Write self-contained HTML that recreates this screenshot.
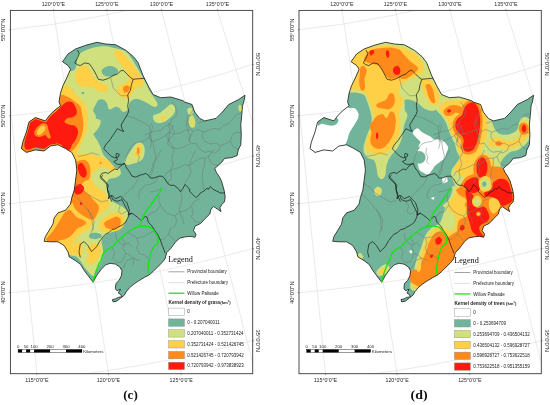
<!DOCTYPE html>
<html><head><meta charset="utf-8"><title>Kernel density maps</title>
<style>html,body{margin:0;padding:0;background:#fff}svg{display:block}</style>
</head><body>
<svg width="550" height="405" viewBox="0 0 550 405">
<style>
text{font-family:"Liberation Sans",Arial,sans-serif;fill:#222}
.ax text{font-size:5.6px;fill:#2a2a2a}
.tk{stroke:#333;stroke-width:.5}
.lg{font-size:4.5px}
.lgb{font-size:4.7px;font-weight:bold}
.lgt{font-family:"Liberation Serif","Times New Roman",serif;font-size:8.2px;fill:#111}
.sb{font-size:4.3px}
.cap{font-family:"Liberation Serif","Times New Roman",serif;font-size:13.4px;font-weight:bold;fill:#111}
</style>
<rect width="550" height="405" fill="#fff"/>
<g transform="translate(0,0)"><clipPath id="fgrass"><rect x="10.4" y="10.4" width="242.29999999999998" height="363.3"/></clipPath><clipPath id="cgrass"><path d="M62.5,61.7 68,54 75.5,49 85.6,45.3 97,42.3 105.8,44 115.8,44.8 126,50.4 133.5,56.7 138,62.5 143,75.5 148,85.6 153,94.5 160.7,97.7 170.7,97 183,100.7 184.6,102 192,104.5 194.7,112 199.7,118.4 204.7,120.9 216,118.4 222.4,112 228.7,104.5 233.7,102 238.7,99.5 245,95.2 243.8,102 242.5,105.8 241.8,114.6 240.8,124.7 241.3,134.7 240.8,144.8 238.2,150 237.2,155.5 231.9,157.6 224.6,158.4 221.5,162.6 217,166.3 214.8,168.7 216.3,172.2 219.3,176.7 221.5,181.1 223,186.3 224.4,191.5 225.2,197.4 224.4,201.9 221.8,204.5 219.9,207.8 221,211.6 213.6,206.5 211,209 209.8,214 204.7,219 200.5,223.5 195.1,226.1 193.5,230.6 196,234.3 195,237.3 191,236.3 185.5,236.8 180,238 175.9,241.6 173.1,245.3 170.4,248.9 166.7,252.6 165,258.9 162,262.6 157.6,267 153.1,271.5 148.7,275.2 144.3,277.4 138.3,281.1 133.9,284.1 129.4,287.8 126.5,291.5 124.3,295.2 120.6,298.1 116.9,301.1 113.1,301.9 112.4,299.6 115.4,298.9 118.3,297.4 122,296.7 120.6,294.4 118.3,293 120.6,289.3 116.9,290.7 115.4,288.8 115.4,287 116.1,283.3 119.1,280.4 121.3,275.9 122,270.7 119.8,267 115.4,264.1 110.2,263.3 105.7,264.8 101.3,269.3 96.9,275.2 93.1,282.2 92,280.8 88.2,275.8 84.4,270.8 80.6,264.5 75.6,260.7 69.3,256.9 68,251.9 64.2,245.6 58,241.8 50.4,241.8 44.1,241.3 45.3,236.7 49.1,230.4 52.9,224.2 54.2,217.9 58,212.8 65.5,210.3 70.5,204 71.8,197.7 74.3,190 75.6,180 76.8,170 75.6,160 71.8,152.4 65.5,148.6 58,144.8 50.4,146 44,151 35.3,149.9 26.4,152.4 21.4,148.6 22.7,142.3 26.4,132 29,122 35.3,117.6 45.3,120.9 49,115.9 54,110.8 60.5,105.8 59,102 60.5,93 63,85.6 66.7,78 70.5,69.3 68,65.5Z"/></clipPath><g clip-path="url(#fgrass)" fill="none" stroke="#d4d4d4" stroke-width="0.5"><circle cx="-99.0" cy="-995.0" r="1030.6"/><circle cx="-99.0" cy="-995.0" r="1116.2"/><circle cx="-99.0" cy="-995.0" r="1203.5"/><circle cx="-99.0" cy="-995.0" r="1292.3"/><circle cx="-99.0" cy="-995.0" r="1381.2"/><line x1="-99.0" y1="-995.0" x2="-27.7" y2="505.0"/><line x1="-99.0" y1="-995.0" x2="50.0" y2="505.0"/><line x1="-99.0" y1="-995.0" x2="128.4" y2="505.0"/><line x1="-99.0" y1="-995.0" x2="208.1" y2="505.0"/><line x1="-99.0" y1="-995.0" x2="289.5" y2="505.0"/><line x1="-99.0" y1="-995.0" x2="373.0" y2="505.0"/><line x1="-99.0" y1="-995.0" x2="459.4" y2="505.0"/></g><g clip-path="url(#cgrass)"><rect x="0" y="0" width="260" height="380" fill="#72b49a"/><path d="M74.5,69.7C75.8,68.4 76.0,66.2 76.6,63.9C77.2,61.5 76.8,57.7 78.1,55.6C79.3,53.5 81.4,52.4 84.1,51.1C86.8,49.8 90.8,48.5 94.2,47.6C97.6,46.8 101.0,45.9 104.3,46.0C107.6,46.1 111.3,47.4 114.3,48.1C117.3,48.8 120.2,49.3 122.4,50.1C124.6,50.9 125.5,51.1 127.4,53.1C129.3,55.1 131.8,58.8 134.0,62.2C136.2,65.6 138.8,70.2 140.8,73.7C142.8,77.2 144.3,80.4 145.8,83.3C147.3,86.2 148.1,88.4 149.6,90.9C151.1,93.4 153.3,96.2 154.6,98.4C155.9,100.6 157.6,102.8 157.6,104.2C157.6,105.6 156.3,107.2 154.6,107.0C152.8,106.8 149.6,104.3 147.1,103.0C144.6,101.7 141.8,100.0 139.5,99.4C137.2,98.8 135.2,98.8 133.5,99.4C131.8,100.0 130.3,101.3 129.4,103.0C128.5,104.7 129.2,107.8 128.2,109.3C127.1,110.8 124.6,112.2 123.1,112.0C121.6,111.8 120.7,108.9 119.4,108.0C118.2,107.1 117.3,106.5 115.6,106.7C113.9,107.0 110.8,110.1 109.3,109.5C107.8,108.9 107.8,104.7 106.8,103.0C105.8,101.3 104.5,99.8 103.0,99.4C101.5,99.0 99.5,99.2 98.0,100.4C96.5,101.6 95.0,104.6 94.2,106.7C93.4,108.8 92.7,111.1 92.9,113.0C93.1,114.9 94.1,116.8 95.4,118.1C96.7,119.4 99.9,119.1 100.5,120.6C101.1,122.1 100.2,124.8 99.2,126.9C98.2,129.0 95.7,131.3 94.2,133.2C92.7,135.1 91.2,136.1 90.4,138.2C89.6,140.3 90.1,143.7 89.1,145.8C88.0,147.9 87.4,150.0 84.1,150.8C80.8,151.6 74.0,152.5 69.0,150.8C64.0,149.1 56.4,148.7 53.9,140.7C51.4,132.7 53.1,113.1 53.9,103.0C54.7,92.9 57.2,85.3 58.9,80.3C60.6,75.2 62.3,74.2 64.0,72.7C65.7,71.2 67.2,72.0 69.0,71.5C70.8,71.0 73.2,71.0 74.5,69.7Z" fill="#cfe07c"/><path d="M75,100C79.3,96.7 93.0,98.3 96,100C99.0,101.7 93.0,107.2 93,110C93.0,112.8 96.3,114.5 96,117C95.7,119.5 91.7,122.5 91,125C90.3,127.5 91.0,129.5 92,132C93.0,134.5 95.6,137.5 97,140C98.4,142.5 99.5,144.7 100.5,147C101.5,149.3 101.8,151.8 103,154C104.2,156.2 105.9,157.6 108,160C110.1,162.4 113.6,167.2 115.5,168.5C117.4,169.8 118.4,167.1 119.3,168C120.2,168.9 121.4,172.4 120.8,174C120.2,175.6 117.4,177.0 115.5,177.8C113.6,178.7 110.8,178.1 109.3,179.1C107.8,180.1 106.9,181.8 106.7,184.1C106.5,186.4 107.0,190.1 108,193C109.0,195.9 110.9,199.7 113,201.8C115.1,203.9 118.3,204.0 120.6,205.5C122.9,207.0 125.6,208.7 126.9,210.6C128.2,212.5 128.5,215.2 128.3,216.9C128.1,218.6 126.9,219.2 125.6,221C124.3,222.8 122.7,225.9 120.6,227.7C118.5,229.4 115.5,230.2 113,231.5C110.5,232.8 107.4,233.8 105.5,235.3C103.6,236.8 102.1,237.8 101.7,240.3C101.3,242.8 103.0,247.0 103,250.4C103.0,253.8 102.8,257.4 101.7,260.5C100.7,263.6 98.1,266.7 96.7,269.3C95.3,271.9 95.2,276.2 93.2,276C91.2,275.8 87.5,271.0 85,268C82.5,265.0 82.2,262.7 78,258C73.8,253.3 63.0,258.0 60,240C57.0,222.0 58.3,170.0 60,150C61.7,130.0 67.5,128.3 70,120C72.5,111.7 70.7,103.3 75,100Z" fill="#cfe07c"/><path d="M124.4,161.5C124.8,159.5 127.5,155.6 129.4,152.7C131.3,149.8 133.8,145.6 135.7,143.9C137.6,142.2 139.2,142.0 140.7,142.6C142.2,143.2 144.0,145.3 144.5,147.6C145.0,149.9 144.6,154.1 143.8,156.4C143.0,158.7 141.5,160.2 139.5,161.5C137.5,162.8 134.0,163.4 131.9,164.0C129.8,164.6 128.2,165.2 126.9,164.8C125.7,164.4 124.0,163.5 124.4,161.5Z" fill="#cfe07c"/><path d="M153.4,115.5C154.3,114.2 157.6,114.2 159.7,113.0C161.8,111.8 164.1,109.5 166.0,108.0C167.9,106.5 169.5,104.4 171.0,104.2C172.5,104.0 174.2,105.2 174.8,106.7C175.4,108.2 175.2,111.1 174.3,113.0C173.5,114.9 171.3,116.6 169.7,118.1C168.1,119.6 166.6,121.0 164.7,121.8C162.8,122.6 160.2,123.3 158.4,123.1C156.6,122.9 154.9,121.9 154.1,120.6C153.3,119.3 152.5,116.8 153.4,115.5Z" fill="#cfe07c"/><path d="M187.4,109.3C187.9,108.3 190.1,107.1 191.1,107.5C192.1,107.9 193.2,110.5 193.2,111.8C193.2,113.0 191.9,114.7 191.1,115.0C190.2,115.3 188.7,114.5 188.1,113.5C187.5,112.5 186.9,110.3 187.4,109.3Z" fill="#cfe07c"/><path d="M189.1,116.8C189.8,115.8 191.9,114.7 192.9,115.5C193.9,116.3 195.0,119.9 195.2,121.8C195.4,123.7 194.7,126.2 193.9,127.1C193.1,128.0 191.3,128.0 190.4,127.1C189.5,126.2 188.8,123.5 188.6,121.8C188.4,120.1 188.4,117.8 189.1,116.8Z" fill="#cfe07c"/><path d="M101.7,70.2C102.2,68.7 104.9,67.0 106.8,66.4C108.7,65.8 111.2,65.8 113.1,66.4C115.0,67.0 117.7,68.8 118.1,70.2C118.5,71.6 117.1,73.8 115.6,74.8C114.1,75.8 111.3,76.4 109.3,76.5C107.3,76.6 105.1,76.3 103.8,75.3C102.5,74.2 101.2,71.7 101.7,70.2Z" fill="#72b49a"/><path d="M70.3,89.9C70.4,89.4 71.5,88.9 72.0,89.1C72.5,89.3 73.1,90.4 73.0,90.9C72.9,91.4 71.8,92.1 71.3,91.9C70.8,91.7 70.2,90.4 70.3,89.9Z" fill="#72b49a"/><path d="M81.6,92.4C81.8,92.0 83.1,91.7 83.6,91.9C84.1,92.1 84.6,93.2 84.4,93.6C84.2,94.0 82.8,94.3 82.3,94.1C81.8,93.9 81.4,92.8 81.6,92.4Z" fill="#72b49a"/><path d="M89.1,235.3C89.7,234.4 92.2,233.0 94.1,232.8C96.0,232.6 99.1,233.4 100.4,234.0C101.7,234.6 102.3,235.8 101.7,236.6C101.1,237.4 98.6,238.8 96.7,239.1C94.8,239.4 91.7,238.9 90.4,238.3C89.1,237.7 88.5,236.2 89.1,235.3Z" fill="#72b49a"/><path d="M75.3,74.0C75.9,71.3 78.6,67.9 80.3,66.4C82.0,64.9 83.7,64.6 85.4,65.2C87.1,65.8 88.9,68.1 90.4,70.2C91.9,72.3 92.5,75.7 94.2,77.8C95.9,79.9 98.4,81.5 100.5,82.8C102.6,84.0 105.5,84.0 106.8,85.3C108.0,86.6 108.8,89.2 108.0,90.4C107.2,91.6 103.8,92.6 101.7,92.4C99.6,92.2 97.5,90.1 95.4,89.1C93.3,88.1 91.4,87.0 89.1,86.6C86.8,86.2 83.7,87.2 81.6,86.6C79.5,86.0 77.6,84.9 76.6,82.8C75.5,80.7 74.7,76.7 75.3,74.0Z" fill="#ffcf45"/><path d="M114.3,51.3C114.9,50.2 117.5,49.2 119.4,50.1C121.3,51.0 123.6,54.1 125.7,56.4C127.8,58.7 129.9,61.2 132.0,63.9C134.1,66.6 136.4,70.0 138.3,72.7C140.2,75.4 142.7,78.0 143.3,80.3C143.9,82.6 143.3,85.3 142.0,86.6C140.7,87.8 137.4,86.5 135.7,87.8C134.0,89.0 133.2,92.4 132.0,94.1C130.8,95.8 129.7,97.3 128.2,97.9C126.7,98.5 124.8,98.5 123.1,97.9C121.4,97.3 119.1,95.6 118.1,94.1C117.0,92.6 116.4,90.6 116.8,89.1C117.2,87.6 119.1,86.3 120.6,85.3C122.1,84.2 124.2,84.0 125.7,82.8C127.2,81.5 129.4,79.9 129.4,77.8C129.4,75.7 127.4,72.7 125.7,70.2C124.0,67.7 121.1,65.0 119.4,62.7C117.7,60.4 116.4,58.3 115.6,56.4C114.8,54.5 113.7,52.3 114.3,51.3Z" fill="#ffcf45"/><path d="M56,94C57.7,90.0 59.7,87.2 62,86C64.3,84.8 67.8,85.7 70,87C72.2,88.3 73.3,91.5 75.5,94C77.7,96.5 81.1,99.4 83,102C84.9,104.6 86.1,106.7 86.9,109.6C87.8,112.5 88.1,116.2 88.1,119.6C88.1,122.9 87.8,126.3 86.9,129.7C86.1,133.1 84.4,136.6 83,139.8C81.6,143.0 79.5,146.7 78.5,149C77.5,151.3 76.7,152.7 77,153.5C77.3,154.3 78.1,153.8 80.3,153.9C82.5,154.0 87.2,153.5 90.4,153.9C93.6,154.3 96.5,155.6 99.2,156.4C101.9,157.2 104.4,157.5 106.7,159C109.0,160.5 111.5,163.4 113,165.3C114.5,167.2 115.7,169.3 115.5,170.3C115.3,171.3 113.3,171.9 111.8,171.5C110.3,171.1 108.6,168.4 106.7,167.8C104.8,167.2 102.5,167.2 100.4,167.8C98.3,168.4 95.6,170.0 94.1,171.5C92.6,173.0 91.6,174.5 91.6,176.6C91.6,178.7 92.6,182.0 94.1,184.1C95.6,186.2 98.5,187.5 100.4,189.2C102.3,190.9 104.2,192.2 105.5,194.2C106.8,196.2 107.9,199.0 108.5,201C109.1,203.0 110.0,204.6 109.3,206.3C108.6,208.0 105.9,209.9 104.2,211.4C102.5,212.9 100.7,213.6 99.2,215.1C97.7,216.6 96.7,218.5 95.4,220.2C94.1,221.9 92.9,223.5 91.6,225.2C90.3,226.9 89.3,229.0 87.8,230.3C86.3,231.6 84.5,231.8 82.8,232.8C81.1,233.9 79.3,234.9 77.8,236.6C76.3,238.3 75.0,240.7 74,242.8C73.0,244.9 71.7,246.9 71.5,249.1C71.3,251.3 74.9,255.8 73,256C71.1,256.1 65.5,251.8 60,250C54.5,248.2 43.3,253.3 40,245C36.7,236.7 36.7,215.8 40,200C43.3,184.2 58.0,165.0 60,150C62.0,135.0 52.7,119.3 52,110C51.3,100.7 54.3,98.0 56,94Z" fill="#ffcf45"/><path d="M86.6,249.1C87.2,247.2 90.8,244.7 92.9,244.1C95.0,243.5 97.9,244.1 99.2,245.4C100.5,246.7 101.0,249.6 100.9,251.7C100.8,253.8 99.7,256.1 98.4,258.0C97.2,259.9 95.0,261.9 93.4,263.0C91.9,264.1 90.2,264.8 89.1,264.3C88.0,263.8 86.6,261.5 86.6,260.0C86.6,258.5 89.1,257.2 89.1,255.4C89.1,253.6 86.0,251.0 86.6,249.1Z" fill="#ffcf45"/><path d="M71.5,249.1C71.5,247.1 73.8,244.1 75.3,242.8C76.8,241.6 79.1,240.6 80.3,241.6C81.5,242.6 82.2,246.7 82.3,249.1C82.4,251.5 82.0,254.9 80.8,255.9C79.6,256.9 76.8,256.0 75.3,254.9C73.8,253.8 71.5,251.1 71.5,249.1Z" fill="#ffcf45"/><path d="M99.2,222.7C100.2,220.8 102.8,218.1 105.5,216.4C108.2,214.7 112.6,212.8 115.5,212.6C118.4,212.4 121.6,213.4 123.1,215.1C124.6,216.8 125.0,220.4 124.6,222.7C124.2,225.0 122.5,227.5 120.6,229.0C118.7,230.5 115.7,231.3 113.0,231.8C110.3,232.3 106.5,232.5 104.2,231.8C101.9,231.1 100.0,229.2 99.2,227.7C98.4,226.2 98.2,224.6 99.2,222.7Z" fill="#ffcf45"/><path d="M134.4,152.7C134.7,150.8 136.6,146.4 137.7,145.1C138.8,143.8 140.0,143.5 140.7,144.6C141.4,145.7 142.2,149.4 142.0,151.4C141.8,153.4 140.6,155.6 139.5,156.4C138.4,157.2 136.5,157.0 135.7,156.4C134.8,155.8 134.1,154.6 134.4,152.7Z" fill="#ffcf45"/><path d="M160.4,118.1C160.8,117.3 163.7,115.8 164.7,115.8C165.7,115.8 166.9,117.0 166.5,117.8C166.1,118.5 163.4,120.2 162.4,120.3C161.4,120.3 160.0,118.8 160.4,118.1Z" fill="#ffcf45"/><path d="M190.1,118.1C190.5,117.0 192.2,116.5 193.1,117.1C193.9,117.7 194.9,120.0 195.2,121.6C195.5,123.1 195.2,125.4 194.7,126.4C194.2,127.4 193.1,127.9 192.4,127.4C191.7,126.9 190.8,125.0 190.4,123.4C190.0,121.9 189.7,119.1 190.1,118.1Z" fill="#dcdc62"/><path d="M238.5,105.8C238.8,104.9 240.6,104.7 241.2,105.5C241.8,106.3 242.3,109.9 242.0,110.8C241.7,111.7 239.8,111.9 239.2,111.1C238.6,110.3 238.2,106.7 238.5,105.8Z" fill="#dcdc62"/><path d="M189.6,118.6C190.1,117.9 191.7,117.1 192.4,117.6C193.1,118.1 193.8,120.5 193.9,121.8C194.0,123.1 193.4,125.0 192.9,125.6C192.4,126.2 191.5,126.2 190.9,125.6C190.3,125.0 189.8,123.0 189.6,121.8C189.4,120.6 189.1,119.3 189.6,118.6Z" fill="#dcdc62"/><path d="M59.9,95.7C61.4,93.6 65.4,96.0 68.0,97.0C70.6,98.0 73.4,100.3 75.5,102.0C77.6,103.7 79.5,104.9 80.6,107.0C81.7,109.1 81.6,111.6 82.1,114.6C82.6,117.5 83.5,121.4 83.4,124.7C83.4,128.1 82.7,131.5 81.8,134.7C80.9,137.8 79.5,141.1 78.1,143.6C76.7,146.1 75.0,148.6 73.5,149.8C72.0,151.1 71.0,151.5 69.3,151.1C67.5,150.7 64.9,150.5 63.0,147.3C61.1,144.2 58.5,138.5 57.9,132.2C57.3,125.9 58.9,115.7 59.2,109.6C59.5,103.5 58.4,97.8 59.9,95.7Z" fill="#ff8a1c"/><path d="M76.5,161.5C78.2,161.0 82.0,159.3 84.1,159.7C86.2,160.1 88.0,162.0 89.1,164.0C90.1,166.0 90.4,169.1 90.4,171.6C90.4,174.1 90.1,177.4 89.1,179.1C88.0,180.8 85.3,180.3 84.1,181.6C82.8,182.9 81.2,184.8 81.6,186.7C82.0,188.6 84.9,191.2 86.6,193.0C88.3,194.8 91.0,196.0 91.6,197.5C92.2,199.0 91.9,200.9 90.4,201.8C88.9,202.7 85.8,202.8 82.8,203.0C79.8,203.2 75.6,202.6 72.7,203.0C69.8,203.4 66.0,207.6 65.2,205.5C64.4,203.4 66.9,194.6 67.7,190.4C68.5,186.2 69.4,183.8 70.2,180.4C71.0,177.1 72.1,173.2 72.7,170.3C73.3,167.4 73.4,164.2 74.0,162.7C74.6,161.2 74.8,162.0 76.5,161.5Z" fill="#ff8a1c"/><path d="M72.8,191.3C74.7,189.5 80.3,189.7 83.9,191.3C87.5,192.9 91.8,198.3 94.3,200.9C96.8,203.5 98.6,204.7 99.0,206.9C99.4,209.1 97.9,212.2 96.9,214.3C95.9,216.4 94.9,219.1 93.1,219.6C91.3,220.1 88.4,218.6 86.1,217.5C83.8,216.4 81.2,214.6 79.4,213.1C77.6,211.6 76.1,210.4 75.0,208.6C73.9,206.8 73.2,205.3 72.8,202.4C72.4,199.5 70.9,193.2 72.8,191.3Z" fill="#ff8a1c"/><path d="M46.1,239.4C46.1,238.2 48.5,236.3 49.8,234.7C51.1,233.1 52.8,231.5 54.0,229.8C55.2,228.1 56.1,226.4 57.2,224.6C58.4,222.8 59.7,220.7 60.9,218.7C62.1,216.7 63.2,214.3 64.6,212.8C66.0,211.3 68.0,209.8 69.4,209.8C70.8,209.8 71.7,211.6 72.9,212.8C74.1,214.0 75.2,216.1 76.8,217.2C78.4,218.3 80.8,218.5 82.4,219.4C84.0,220.3 86.2,221.5 86.3,222.6C86.3,223.7 84.2,225.1 82.7,226.1C81.2,227.1 78.8,227.5 77.4,228.5C76.0,229.5 75.5,230.8 74.4,232.0C73.3,233.2 72.1,234.8 70.6,235.9C69.1,237.1 67.1,238.2 65.4,238.9C63.7,239.6 62.1,239.7 60.2,240.2C58.4,240.7 56.0,241.8 54.3,242.1C52.6,242.4 51.2,242.2 49.8,241.8C48.4,241.4 46.1,240.6 46.1,239.4Z" fill="#ff8a1c"/><path d="M104.2,222.7C104.8,221.2 108.4,219.9 110.5,218.9C112.6,217.9 115.1,216.2 116.8,216.4C118.5,216.6 120.4,218.5 120.8,220.2C121.2,221.9 120.4,225.0 119.3,226.5C118.2,228.0 116.4,228.9 114.3,229.2C112.2,229.4 108.4,229.1 106.7,228.0C105.0,226.9 103.6,224.2 104.2,222.7Z" fill="#ff8a1c"/><path d="M123.1,87.8C123.5,86.6 125.8,85.3 126.9,85.3C128.0,85.3 129.7,86.8 129.9,87.8C130.1,88.8 129.1,90.8 128.2,91.6C127.3,92.4 125.2,93.0 124.4,92.4C123.6,91.8 122.7,89.0 123.1,87.8Z" fill="#ff8a1c"/><path d="M137.7,148.9C137.8,147.8 138.7,147.0 139.0,147.6C139.3,148.2 139.8,151.6 139.7,152.7C139.6,153.8 138.5,154.5 138.2,153.9C137.9,153.3 137.6,150.0 137.7,148.9Z" fill="#ff8a1c"/><path d="M99.7,162.2C99.9,161.8 100.9,161.5 101.2,161.7C101.5,161.9 101.9,163.1 101.7,163.5C101.5,163.9 100.5,164.2 100.2,164.0C99.9,163.8 99.5,162.6 99.7,162.2Z" fill="#ff8a1c"/><path d="M20.1,146.1C20.6,145.2 23.0,144.4 24.4,144.8C25.8,145.2 26.6,148.2 28.2,148.8C29.8,149.4 32.8,147.9 34.0,148.3C35.2,148.7 36.6,150.2 35.3,151.1C34.0,151.9 28.8,153.5 26.4,153.4C24.0,153.3 22.2,151.6 21.2,150.4C20.1,149.2 19.6,147.0 20.1,146.1Z" fill="#ff8a1c"/><path d="M30.2,119.6C31.7,118.3 35.3,116.8 37.8,117.1C40.3,117.4 43.2,121.8 45.3,121.6C47.4,121.4 48.5,117.7 50.4,115.9C52.3,114.1 54.8,112.5 56.7,110.8C58.6,109.1 60.0,107.3 61.7,105.8C63.4,104.3 65.0,102.6 66.7,102.0C68.4,101.4 70.3,101.2 71.8,102.0C73.3,102.8 74.7,105.1 75.5,107.0C76.3,108.9 77.2,111.6 76.8,113.3C76.4,115.0 74.6,116.2 73.0,117.1C71.4,117.9 68.4,117.6 67.0,118.4C65.6,119.2 64.1,121.0 64.5,122.1C64.9,123.1 67.5,124.0 69.3,124.7C71.1,125.4 74.0,125.0 75.5,126.2C77.0,127.5 78.1,129.9 78.1,132.2C78.1,134.5 76.5,137.7 75.5,139.8C74.5,141.9 73.0,143.1 72.0,144.8C71.0,146.5 70.8,149.3 69.5,149.8C68.2,150.3 66.1,148.8 64.2,147.8C62.3,146.8 60.2,144.2 57.9,143.8C55.6,143.4 52.7,144.3 50.4,145.1C48.1,145.9 46.6,148.4 44.1,148.8C41.6,149.2 38.0,147.4 35.3,147.6C32.6,147.8 29.5,150.0 27.7,149.8C25.9,149.6 24.6,148.8 24.4,146.3C24.1,143.8 25.5,138.3 26.2,134.7C26.9,131.1 28.0,127.2 28.7,124.7C29.4,122.2 28.7,120.9 30.2,119.6Z" fill="#ff1a10"/><path d="M34.2,132.9C34.2,131.4 35.5,129.0 36.9,127.4C38.3,125.8 40.7,123.9 42.4,123.4C44.1,123.0 46.0,123.7 47.0,124.7C48.0,125.7 47.8,127.8 48.3,129.3C48.8,130.8 49.3,132.4 49.7,133.8C50.1,135.2 51.0,136.7 50.8,137.5C50.6,138.3 49.2,138.8 48.3,138.4C47.4,138.0 46.3,135.4 45.2,135.1C44.1,134.8 42.9,136.3 41.5,136.6C40.1,136.8 38.1,137.2 36.9,136.6C35.7,136.0 34.2,134.4 34.2,132.9Z" fill="#ff8a1c"/><path d="M36.9,132.0C37.2,130.8 38.6,128.5 39.7,127.4C40.8,126.3 42.4,125.6 43.3,125.6C44.2,125.6 45.1,126.5 45.3,127.4C45.5,128.3 45.1,129.9 44.3,131.1C43.5,132.3 41.7,133.8 40.6,134.4C39.5,135.0 38.5,135.1 37.9,134.7C37.3,134.3 36.6,133.2 36.9,132.0Z" fill="#ffcf45"/><path d="M77.8,165.3C78.3,164.0 80.3,162.3 81.6,162.7C82.8,163.1 84.4,165.9 85.3,167.8C86.2,169.7 87.0,172.4 86.8,174.1C86.6,175.8 85.2,177.6 84.1,177.8C83.0,178.0 81.3,176.6 80.3,175.3C79.3,174.1 78.7,172.0 78.3,170.3C77.9,168.6 77.2,166.6 77.8,165.3Z" fill="#ff1a10"/><path d="M75.3,186.7C76.3,185.6 78.8,183.9 80.3,184.1C81.8,184.3 83.9,186.4 84.1,187.9C84.3,189.4 82.9,191.9 81.6,193.0C80.3,194.1 77.8,194.9 76.5,194.5C75.2,194.1 74.2,191.7 74.0,190.4C73.8,189.1 74.2,187.8 75.3,186.7Z" fill="#ff1a10"/><path d="M80.0,202.8C80.2,202.4 81.4,202.2 81.8,202.5C82.2,202.8 82.5,203.9 82.3,204.3C82.1,204.7 80.9,205.1 80.5,204.8C80.1,204.6 79.8,203.2 80.0,202.8Z" fill="#ff1a10"/><clipPath id="pr"><rect x="15" y="108" width="47" height="50"/></clipPath><g clip-path="url(#pr)"><path d="M62.5,61.7 68,54 75.5,49 85.6,45.3 97,42.3 105.8,44 115.8,44.8 126,50.4 133.5,56.7 138,62.5 143,75.5 148,85.6 153,94.5 160.7,97.7 170.7,97 183,100.7 184.6,102 192,104.5 194.7,112 199.7,118.4 204.7,120.9 216,118.4 222.4,112 228.7,104.5 233.7,102 238.7,99.5 245,95.2 243.8,102 242.5,105.8 241.8,114.6 240.8,124.7 241.3,134.7 240.8,144.8 238.2,150 237.2,155.5 231.9,157.6 224.6,158.4 221.5,162.6 217,166.3 214.8,168.7 216.3,172.2 219.3,176.7 221.5,181.1 223,186.3 224.4,191.5 225.2,197.4 224.4,201.9 221.8,204.5 219.9,207.8 221,211.6 213.6,206.5 211,209 209.8,214 204.7,219 200.5,223.5 195.1,226.1 193.5,230.6 196,234.3 195,237.3 191,236.3 185.5,236.8 180,238 175.9,241.6 173.1,245.3 170.4,248.9 166.7,252.6 165,258.9 162,262.6 157.6,267 153.1,271.5 148.7,275.2 144.3,277.4 138.3,281.1 133.9,284.1 129.4,287.8 126.5,291.5 124.3,295.2 120.6,298.1 116.9,301.1 113.1,301.9 112.4,299.6 115.4,298.9 118.3,297.4 122,296.7 120.6,294.4 118.3,293 120.6,289.3 116.9,290.7 115.4,288.8 115.4,287 116.1,283.3 119.1,280.4 121.3,275.9 122,270.7 119.8,267 115.4,264.1 110.2,263.3 105.7,264.8 101.3,269.3 96.9,275.2 93.1,282.2 92,280.8 88.2,275.8 84.4,270.8 80.6,264.5 75.6,260.7 69.3,256.9 68,251.9 64.2,245.6 58,241.8 50.4,241.8 44.1,241.3 45.3,236.7 49.1,230.4 52.9,224.2 54.2,217.9 58,212.8 65.5,210.3 70.5,204 71.8,197.7 74.3,190 75.6,180 76.8,170 75.6,160 71.8,152.4 65.5,148.6 58,144.8 50.4,146 44,151 35.3,149.9 26.4,152.4 21.4,148.6 22.7,142.3 26.4,132 29,122 35.3,117.6 45.3,120.9 49,115.9 54,110.8 60.5,105.8 59,102 60.5,93 63,85.6 66.7,78 70.5,69.3 68,65.5Z" fill="none" stroke="#ff8a1c" stroke-width="2.6" stroke-linejoin="round"/></g><g fill="none" stroke="#6f7a78" stroke-width="0.5" stroke-linejoin="round"><path d="M193.9,108.3 191.1,112.9 189.3,116.6 187.5,122.0 189.3,127.5 193.0,131.2 191.1,134.8 189.3,140.3 191.1,144.0 195.7,143.1 198.4,146.7 201.2,150.4 204.8,152.2 210.3,151.3 214.0,153.1"/><path d="M171.9,101.9 174.7,105.6 177.4,111.1 175.6,116.6 171.9,119.3 170.1,123.9 172.9,128.4 174.7,133.0 171.9,136.7 168.3,140.3 167.4,144.0 171.9,147.6 177.4,148.6 184.7,146.7 189.3,144.0"/><path d="M144.5,134.8 150.0,133.0 155.5,131.2 161.0,130.3 164.6,126.6 170.1,123.9"/><path d="M193.0,131.2 197.5,129.4 203.0,132.1 208.5,130.3 214.0,128.4 219.5,129.4 223.1,125.7 228.6,123.9 232.3,119.3 235.0,115.6 239.6,113.8 242.3,112.9"/><path d="M203.0,132.1 202.1,136.7 204.8,141.2 210.3,144.0 215.8,143.1 220.4,145.8 218.6,150.4 214.0,153.1"/><path d="M220.4,145.8 225.0,144.0 230.4,141.2 232.3,134.8 235.9,132.1 241.4,133.0"/><path d="M230.4,141.2 233.2,146.7 237.8,149.5 240.9,148.6"/><path d="M150.0,134.8 151.8,140.3 150.9,145.8 150.0,148.6"/><path d="M161.0,150.0 158.2,155.5 155.5,160.1 152.7,163.7 153.7,168.3 151.8,173.8 150.0,176.5"/><path d="M195.7,150.0 193.0,155.5 191.1,160.1 189.3,165.5 191.1,171.0 189.3,176.5 186.6,180.2 184.7,183.8"/><path d="M189.3,165.5 195.7,161.0 200.3,158.2 204.8,158.2 208.5,156.4 211.2,152.7 214.0,150.0"/><path d="M208.5,156.4 210.3,161.9 214.0,164.6 217.1,165.7"/><path d="M164.6,176.5 167.4,171.9 173.8,169.2 179.3,167.4 184.7,164.6 189.3,165.5"/><path d="M180.2,191.1 182.0,197.5 181.1,203.0 179.3,208.5 180.2,214.0 182.9,218.6 183.8,224.0"/><path d="M150.0,192.0 155.5,191.1 160.1,189.3 161.9,188.4"/><path d="M203.9,191.1 203.0,184.7 202.1,177.4 203.0,170.1 204.8,164.6 204.8,158.2"/><path d="M121.9,237.0 124.7,242.5 122.9,248.0 125.6,253.5 130.2,255.3 133.8,259.9 132.9,265.4"/><path d="M127.4,232.5 132.0,234.3 136.6,238.0 138.4,243.4 136.6,248.0 139.3,253.5 144.8,255.3 149.4,259.0"/><path d="M136.6,238.0 143.0,237.0 147.5,234.3 153.9,230.6"/><path d="M111.9,247.1 114.6,252.6 112.8,258.1 117.4,262.6 121.9,261.7 125.6,253.5"/><path d="M158.5,239.8 164.0,238.9 168.6,234.3 170.4,228.8 175.0,226.1 176.8,220.6 175.0,216.0 178.6,212.4 185.9,210.5 191.4,206.0 195.1,200.5 200.0,198.7"/><path d="M168.6,234.3 173.1,238.9 175.9,241.6"/><path d="M175.0,216.0 169.5,214.2 164.0,210.5 160.3,205.1 158.5,198.7 159.4,195.0"/><path d="M147.2,217.9 150.3,213.3 155.8,211.5 160.3,205.1"/><path d="M191.4,206.0 193.2,211.5 191.4,216.9 195.1,221.5 200.0,222.4"/><path d="M117.4,201.4 120.1,206.0 118.3,211.5 121.9,214.2 127.4,210.5"/><path d="M124.7,163.4 126.6,156.1 129.3,149.7 133.0,144.2 137.5,142.4 143.0,141.5 148.5,137.8 151.2,132.3 153.1,125.0"/><path d="M148.5,137.8 153.1,141.5 158.6,139.6 165.0,136.0 169.5,132.3 172.3,127.7 173.2,125.0"/><path d="M169.5,132.3 174.1,134.1 179.6,133.2 185.1,130.5 190.0,129.6"/><path d="M153.1,141.5 154.0,148.8 155.8,156.1 154.9,162.5 152.2,168.0 150.3,173.4 148.5,175.3"/><path d="M167.7,183.5 171.4,178.0 170.4,170.7 173.2,164.3 171.4,157.9 174.1,152.4 172.3,145.1 168.6,141.5 169.5,132.3"/><path d="M139.4,175.3 136.6,181.7 133.0,187.2 127.5,191.7 123.8,196.3 121.1,199.0"/><path d="M158.6,176.2 155.8,181.7 150.3,184.4 144.8,185.3 140.3,189.9 138.4,195.4 139.4,199.0"/><path d="M137.9,147.9 137.2,153.3 139.4,157.0 137.9,161.6 140.3,164.3"/><path d="M125.7,115.5 134.5,118.1 144.5,123.1 149.6,126.9 152.1,123.1"/><path d="M149.6,126.9 150.8,142.0"/><path d="M168.5,123.1 169.7,130.7 166.0,135.7 169.7,142.0"/><path d="M187.4,115.5 186.1,125.6 189.9,135.7 188.6,142.0"/><path d="M197.4,123.1 207.0,120.6"/><path d="M110.8,78.1 113.3,88.1 120.9,95.7 128.4,95.7"/><path d="M77.8,156.4 85.3,155.2 91.6,152.7 99.2,155.2"/><path d="M74.0,182.9 80.3,186.7 86.6,193.0 94.1,198.0 101.7,201.8 108.0,200.5"/><path d="M71.5,193.0 77.8,198.0 84.1,205.5 90.4,213.1 94.1,220.7 92.9,230.7"/><path d="M87.8,208.9 91.6,217.7 92.9,227.7 90.4,235.3"/><path d="M115.5,232.8 116.8,240.3 123.1,245.4 128.1,242.8 131.9,246.6"/><path d="M115.5,270.5 123.1,268.0 126.9,260.5 133.2,258.0 139.5,260.5"/></g><g fill="none" stroke="#151515" stroke-width="0.7" stroke-linejoin="round"><path d="M77.4,50.1 79.3,53.7 77.4,58.3 74.7,62.9 77.4,64.7 80.2,65.6 84.7,62.9 89.3,63.8 92.0,67.4 94.8,72.0 96.6,75.6 98.4,79.3 103.0,80.2 108.5,78.4 113.1,75.6 117.6,73.8 120.4,71.1 123.1,70.2 126.8,73.8 130.4,77.5 133.2,79.3 131.4,84.8 130.4,90.3 127.7,94.8 128.6,100.3 127.7,105.8 128.6,111.3 127.7,114.0 121.1,125.0 122.0,128.7 123.8,131.4 121.1,130.5 117.4,128.7 113.8,134.1 110.1,139.6 105.5,145.1 103.7,148.8 107.4,152.4 111.0,156.1 114.7,157.9 118.3,157.0 119.3,154.3 116.5,153.3 116.0,155.7 117.4,159.7 113.8,161.6 117.4,164.3 122.0,164.3 124.7,163.4"/><path d="M133.2,79.3 137.8,78.8 143.2,78.4 146.3,79.5"/><path d="M124.7,163.4 126.6,168.0 129.3,171.6 132.0,176.2 135.7,177.1 139.4,175.3 143.0,174.4 145.8,173.4 148.5,175.3 150.3,178.0 154.0,178.0 158.6,176.2 162.2,176.2 165.0,178.9 167.7,183.5 170.4,185.3 174.1,185.3 177.8,188.1 180.5,191.7 183.2,188.1 185.1,184.4 187.8,187.2 190.0,189.9 189.3,191.1 193.0,194.8 195.7,197.5 198.4,195.7 200.3,193.0 203.9,191.1 206.7,188.4 208.5,189.3 210.3,186.6 213.1,189.3 216.7,191.1 220.4,193.0 223.1,193.0 225.0,192.0"/><path d="M124.7,163.4 120.2,166.1 117.4,169.8 114.7,168.9 111.9,170.7 108.3,173.4 105.5,172.5 101.9,173.4 100.1,176.2 102.8,178.9 105.5,181.7 108.3,185.3 107.4,189.0 109.2,193.6 108.3,199.0 111.0,195.0 112.8,199.6 117.4,201.4 121.9,199.6 124.7,205.1 127.4,210.5 129.3,214.2 132.0,213.3 134.7,215.1 138.4,217.9 141.1,220.6 143.0,218.8 145.7,216.0 147.2,217.9 148.4,222.4 152.1,226.1 154.8,230.6 157.6,234.3 160.3,239.8 162.2,245.3 164.0,249.8 165.1,253.1"/><path d="M129.3,214.2 127.4,218.8 125.6,222.4 121.9,225.2 118.3,227.0 115.5,228.8 111.9,229.7 109.1,232.5 105.5,234.3 102.7,237.0 100.9,239.8 100.0,240.7 96.7,246.6 91.6,251.7 87.8,245.4 84.1,241.6 80.3,244.1 79.0,251.7 80.3,257.5"/><path d="M111.8,195.0 115.5,198.8 120.6,196.3 126.9,202.6 129.4,210.1 128.1,215.1 131.9,213.1"/><path d="M103.0,175.3 100.4,177.8 106.7,184.1 108.0,193.0 111.8,201.8"/></g></g><path d="M62.5,61.7 68,54 75.5,49 85.6,45.3 97,42.3 105.8,44 115.8,44.8 126,50.4 133.5,56.7 138,62.5 143,75.5 148,85.6 153,94.5 160.7,97.7 170.7,97 183,100.7 184.6,102 192,104.5 194.7,112 199.7,118.4 204.7,120.9 216,118.4 222.4,112 228.7,104.5 233.7,102 238.7,99.5 245,95.2 243.8,102 242.5,105.8 241.8,114.6 240.8,124.7 241.3,134.7 240.8,144.8 238.2,150 237.2,155.5 231.9,157.6 224.6,158.4 221.5,162.6 217,166.3 214.8,168.7 216.3,172.2 219.3,176.7 221.5,181.1 223,186.3 224.4,191.5 225.2,197.4 224.4,201.9 221.8,204.5 219.9,207.8 221,211.6 213.6,206.5 211,209 209.8,214 204.7,219 200.5,223.5 195.1,226.1 193.5,230.6 196,234.3 195,237.3 191,236.3 185.5,236.8 180,238 175.9,241.6 173.1,245.3 170.4,248.9 166.7,252.6 165,258.9 162,262.6 157.6,267 153.1,271.5 148.7,275.2 144.3,277.4 138.3,281.1 133.9,284.1 129.4,287.8 126.5,291.5 124.3,295.2 120.6,298.1 116.9,301.1 113.1,301.9 112.4,299.6 115.4,298.9 118.3,297.4 122,296.7 120.6,294.4 118.3,293 120.6,289.3 116.9,290.7 115.4,288.8 115.4,287 116.1,283.3 119.1,280.4 121.3,275.9 122,270.7 119.8,267 115.4,264.1 110.2,263.3 105.7,264.8 101.3,269.3 96.9,275.2 93.1,282.2 92,280.8 88.2,275.8 84.4,270.8 80.6,264.5 75.6,260.7 69.3,256.9 68,251.9 64.2,245.6 58,241.8 50.4,241.8 44.1,241.3 45.3,236.7 49.1,230.4 52.9,224.2 54.2,217.9 58,212.8 65.5,210.3 70.5,204 71.8,197.7 74.3,190 75.6,180 76.8,170 75.6,160 71.8,152.4 65.5,148.6 58,144.8 50.4,146 44,151 35.3,149.9 26.4,152.4 21.4,148.6 22.7,142.3 26.4,132 29,122 35.3,117.6 45.3,120.9 49,115.9 54,110.8 60.5,105.8 59,102 60.5,93 63,85.6 66.7,78 70.5,69.3 68,65.5Z" fill="none" stroke="#1c1c1c" stroke-width="0.8" stroke-linejoin="round"/><g fill="none" stroke="#0fe60f" stroke-width="1.25" stroke-linejoin="round" stroke-linecap="round"><path d="M161.9,188.4 159.1,193.0 155.5,198.4 151.8,203.9 157.6,195.0 153.9,200.5 149.4,206.9 145.7,211.5 143.0,216.9 141.1,222.4 139.3,226.1 132.9,228.8 127.4,232.5 121.9,237.0 116.5,242.5 111.9,247.1 106.4,249.8 102.7,254.4 100.9,260.8 99.2,263 95.6,272.5 93,281.9"/><path d="M139.3,226.1 144.8,226.1 150.3,227.0 153.9,230.6 156.7,235.2 158.5,239.8 157.6,243.4 153.9,246.2 151.2,251.7 149.4,259.0 148.4,265.4 147.9,269.0 148.3,273.5"/></g><g transform="translate(0,0.3)"><text class="lgt" x="168.3" y="261.6">Legend</text><line x1="168.5" y1="271.5" x2="184.5" y2="271.5" stroke="#444" stroke-width="0.5"/><text class="lg" x="187.3" y="273.1">Provincial boundary</text><line x1="168.5" y1="282.4" x2="184.5" y2="282.4" stroke="#bbb" stroke-width="0.5"/><text class="lg" x="187.3" y="284">Prefecture boundary</text><line x1="168.5" y1="292.9" x2="184.5" y2="292.9" stroke="#0fe60f" stroke-width="1.25"/><text class="lg" x="187.3" y="294.5">Willow Palisade</text><text class="lgb" x="168.5" y="304.2">Kernel density of grass<tspan font-size="4.2">(km²)</tspan></text><rect x="168.5" y="307.8" width="16" height="7.4" fill="#ffffff" stroke="#8a8a8a" stroke-width="0.4"/><text class="lg" x="187.3" y="313.1">0</text><rect x="168.5" y="318.6" width="16" height="7.4" fill="#72b49a" stroke="#8a8a8a" stroke-width="0.4"/><text class="lg" x="187.3" y="323.9">0 - 0.207040011</text><rect x="168.5" y="329.4" width="16" height="7.4" fill="#cfe07c" stroke="#8a8a8a" stroke-width="0.4"/><text class="lg" x="187.3" y="334.7">0.207040011 - 0.352731424</text><rect x="168.5" y="340.3" width="16" height="7.4" fill="#ffcf45" stroke="#8a8a8a" stroke-width="0.4"/><text class="lg" x="187.3" y="345.6">0.352731424 - 0.521426745</text><rect x="168.5" y="351.1" width="16" height="7.4" fill="#ff8a1c" stroke="#8a8a8a" stroke-width="0.4"/><text class="lg" x="187.3" y="356.4">0.521426745 - 0.720793942</text><rect x="168.5" y="361.9" width="16" height="7.4" fill="#ff1a10" stroke="#8a8a8a" stroke-width="0.4"/><text class="lg" x="187.3" y="367.2">0.720793942 - 0.973838923</text></g><rect x="18.1" y="349.5" width="63.8" height="2.9" fill="#fff" stroke="#000" stroke-width="0.4"/><rect x="18.1" y="349.5" width="4.0" height="2.9" fill="#000"/><rect x="26.1" y="349.5" width="4.0" height="2.9" fill="#000"/><rect x="34.1" y="349.5" width="16.0" height="2.9" fill="#000"/><rect x="66.0" y="349.5" width="16.0" height="2.9" fill="#000"/><text class="sb" x="18.1" y="347.6" text-anchor="middle">0</text><text class="sb" x="26.1" y="347.6" text-anchor="middle">50</text><text class="sb" x="34.1" y="347.6" text-anchor="middle">100</text><text class="sb" x="50.0" y="347.6" text-anchor="middle">200</text><text class="sb" x="66.0" y="347.6" text-anchor="middle">300</text><text class="sb" x="81.9" y="347.6" text-anchor="middle">400</text><text class="sb" x="83.2" y="352.6" font-size="4.5">Kilometers</text><rect x="10.4" y="10.4" width="242.29999999999998" height="363.3" fill="none" stroke="#3a3a3a" stroke-width="0.9"/><g class="ax"><text x="53.4" y="6.4" text-anchor="middle" textLength="23.3" lengthAdjust="spacingAndGlyphs">120°0'0"E</text><line class="tk" x1="53.4" y1="9.200000000000001" x2="53.4" y2="10.4"/><text x="106.8" y="6.4" text-anchor="middle" textLength="23.3" lengthAdjust="spacingAndGlyphs">125°0'0"E</text><line class="tk" x1="106.8" y1="9.200000000000001" x2="106.8" y2="10.4"/><text x="161.4" y="6.4" text-anchor="middle" textLength="23.3" lengthAdjust="spacingAndGlyphs">130°0'0"E</text><line class="tk" x1="161.4" y1="9.200000000000001" x2="161.4" y2="10.4"/><text x="217.4" y="6.4" text-anchor="middle" textLength="23.3" lengthAdjust="spacingAndGlyphs">135°0'0"E</text><line class="tk" x1="217.4" y1="9.200000000000001" x2="217.4" y2="10.4"/><text x="36.9" y="382.2" text-anchor="middle" textLength="23.3" lengthAdjust="spacingAndGlyphs">115°0'0"E</text><line class="tk" x1="36.9" y1="373.7" x2="36.9" y2="374.9"/><text x="108.5" y="382.2" text-anchor="middle" textLength="23.3" lengthAdjust="spacingAndGlyphs">120°0'0"E</text><line class="tk" x1="108.5" y1="373.7" x2="108.5" y2="374.9"/><text x="181.2" y="382.2" text-anchor="middle" textLength="23.3" lengthAdjust="spacingAndGlyphs">125°0'0"E</text><line class="tk" x1="181.2" y1="373.7" x2="181.2" y2="374.9"/><text transform="translate(5.4,29.8) rotate(-90)" text-anchor="middle" textLength="22.6" lengthAdjust="spacingAndGlyphs">55°0'0"N</text><line class="tk" x1="9.200000000000001" y1="29.8" x2="10.4" y2="29.8"/><text transform="translate(5.4,115.8) rotate(-90)" text-anchor="middle" textLength="22.6" lengthAdjust="spacingAndGlyphs">50°0'0"N</text><line class="tk" x1="9.200000000000001" y1="115.8" x2="10.4" y2="115.8"/><text transform="translate(5.4,203.5) rotate(-90)" text-anchor="middle" textLength="22.6" lengthAdjust="spacingAndGlyphs">45°0'0"N</text><line class="tk" x1="9.200000000000001" y1="203.5" x2="10.4" y2="203.5"/><text transform="translate(5.4,292.7) rotate(-90)" text-anchor="middle" textLength="22.6" lengthAdjust="spacingAndGlyphs">40°0'0"N</text><line class="tk" x1="9.200000000000001" y1="292.7" x2="10.4" y2="292.7"/><text transform="translate(256.2,64.3) rotate(90)" text-anchor="middle" textLength="22.6" lengthAdjust="spacingAndGlyphs">50°0'0"N</text><line class="tk" x1="252.7" y1="64.3" x2="253.89999999999998" y2="64.3"/><text transform="translate(256.2,156.0) rotate(90)" text-anchor="middle" textLength="22.6" lengthAdjust="spacingAndGlyphs">45°0'0"N</text><line class="tk" x1="252.7" y1="156.0" x2="253.89999999999998" y2="156.0"/><text transform="translate(256.2,248.5) rotate(90)" text-anchor="middle" textLength="22.6" lengthAdjust="spacingAndGlyphs">40°0'0"N</text><line class="tk" x1="252.7" y1="248.5" x2="253.89999999999998" y2="248.5"/><text transform="translate(256.2,340.7) rotate(90)" text-anchor="middle" textLength="22.6" lengthAdjust="spacingAndGlyphs">35°0'0"N</text><line class="tk" x1="252.7" y1="340.7" x2="253.89999999999998" y2="340.7"/></g><text class="cap" x="130.5" y="399" text-anchor="middle" textLength="14.6" lengthAdjust="spacingAndGlyphs">(c)</text></g>
<g transform="translate(288.6,0)"><clipPath id="ftrees"><rect x="10.4" y="10.4" width="242.29999999999998" height="363.3"/></clipPath><clipPath id="ctrees"><path d="M62.5,61.7 68,54 75.5,49 85.6,45.3 97,42.3 105.8,44 115.8,44.8 126,50.4 133.5,56.7 138,62.5 143,75.5 148,85.6 153,94.5 160.7,97.7 170.7,97 183,100.7 184.6,102 192,104.5 194.7,112 199.7,118.4 204.7,120.9 216,118.4 222.4,112 228.7,104.5 233.7,102 238.7,99.5 245,95.2 243.8,102 242.5,105.8 241.8,114.6 240.8,124.7 241.3,134.7 240.8,144.8 238.2,150 237.2,155.5 231.9,157.6 224.6,158.4 221.5,162.6 217,166.3 214.8,168.7 216.3,172.2 219.3,176.7 221.5,181.1 223,186.3 224.4,191.5 225.2,197.4 224.4,201.9 221.8,204.5 219.9,207.8 221,211.6 213.6,206.5 211,209 209.8,214 204.7,219 200.5,223.5 195.1,226.1 193.5,230.6 196,234.3 195,237.3 191,236.3 185.5,236.8 180,238 175.9,241.6 173.1,245.3 170.4,248.9 166.7,252.6 165,258.9 162,262.6 157.6,267 153.1,271.5 148.7,275.2 144.3,277.4 138.3,281.1 133.9,284.1 129.4,287.8 126.5,291.5 124.3,295.2 120.6,298.1 116.9,301.1 113.1,301.9 112.4,299.6 115.4,298.9 118.3,297.4 122,296.7 120.6,294.4 118.3,293 120.6,289.3 116.9,290.7 115.4,288.8 115.4,287 116.1,283.3 119.1,280.4 121.3,275.9 122,270.7 119.8,267 115.4,264.1 110.2,263.3 105.7,264.8 101.3,269.3 96.9,275.2 93.1,282.2 92,280.8 88.2,275.8 84.4,270.8 80.6,264.5 75.6,260.7 69.3,256.9 68,251.9 64.2,245.6 58,241.8 50.4,241.8 44.1,241.3 45.3,236.7 49.1,230.4 52.9,224.2 54.2,217.9 58,212.8 65.5,210.3 70.5,204 71.8,197.7 74.3,190 75.6,180 76.8,170 75.6,160 71.8,152.4 65.5,148.6 58,144.8 50.4,146 44,151 35.3,149.9 26.4,152.4 21.4,148.6 22.7,142.3 26.4,132 29,122 35.3,117.6 45.3,120.9 49,115.9 54,110.8 60.5,105.8 59,102 60.5,93 63,85.6 66.7,78 70.5,69.3 68,65.5Z"/></clipPath><g clip-path="url(#ftrees)" fill="none" stroke="#d4d4d4" stroke-width="0.5"><circle cx="-99.0" cy="-995.0" r="1030.6"/><circle cx="-99.0" cy="-995.0" r="1116.2"/><circle cx="-99.0" cy="-995.0" r="1203.5"/><circle cx="-99.0" cy="-995.0" r="1292.3"/><circle cx="-99.0" cy="-995.0" r="1381.2"/><line x1="-99.0" y1="-995.0" x2="-27.7" y2="505.0"/><line x1="-99.0" y1="-995.0" x2="50.0" y2="505.0"/><line x1="-99.0" y1="-995.0" x2="128.4" y2="505.0"/><line x1="-99.0" y1="-995.0" x2="208.1" y2="505.0"/><line x1="-99.0" y1="-995.0" x2="289.5" y2="505.0"/><line x1="-99.0" y1="-995.0" x2="373.0" y2="505.0"/><line x1="-99.0" y1="-995.0" x2="459.4" y2="505.0"/></g><g clip-path="url(#ctrees)"><rect x="0" y="0" width="260" height="380" fill="#72b49a"/><path d="M46.4,70C44.7,76.7 49.4,81.3 51.4,85C53.4,88.7 56.4,90.8 58.4,92C60.4,93.2 61.6,92.3 63.4,92.5C65.2,92.7 67.7,92.8 69.4,93C71.1,93.2 72.3,93.6 73.4,94C74.5,94.4 75.3,94.5 76.1,95.5C76.9,96.5 77.4,98.5 78.0,100.1C78.6,101.7 79.3,103.4 79.9,105.3C80.5,107.2 81.3,109.6 81.8,111.7C82.3,113.8 83.0,116.0 83.1,118.1C83.2,120.2 82.9,122.6 82.5,124.5C82.1,126.4 81.2,128.0 80.6,129.7C79.9,131.4 79.2,133.1 78.6,134.8C77.9,136.5 77.3,137.9 76.7,139.9C76.1,141.9 75.2,144.9 75.0,147C74.8,149.1 74.7,150.7 75.4,152.5C76.1,154.3 77.4,156.4 79.1,157.7C80.8,159.0 83.9,158.6 85.4,160.3C86.9,162.0 87.3,165.3 87.9,167.8C88.5,170.3 88.4,173.5 89.2,175.4C90.0,177.3 91.8,179.1 93.0,179.1C94.2,179.1 95.9,177.7 96.7,175.4C97.5,173.1 97.2,168.5 98.0,165.3C98.8,162.2 100.1,159.2 101.8,156.5C103.5,153.8 106.2,151.8 108.1,148.9C110.0,146.0 111.8,142.9 113.1,138.9C114.3,134.9 114.6,128.9 115.6,125.0C116.6,121.1 118.8,117.9 118.9,115.5C119.0,113.1 116.9,112.2 116.4,110.5C115.9,108.8 116.1,106.8 116.1,105.0C116.1,103.2 115.3,100.5 116.6,99.7C117.9,98.9 121.8,99.9 123.9,100.4C126.0,101.0 126.9,101.6 129.0,103.0C131.1,104.4 133.9,107.7 136.5,109.0C139.1,110.3 142.6,111.1 144.6,111.0C146.6,110.9 146.9,108.2 148.4,108.5C149.9,108.8 151.9,111.2 153.4,113.0C154.9,114.8 155.7,117.4 157.2,119.3C158.7,121.2 160.5,123.8 162.2,124.4C163.9,125.0 165.5,124.6 167.2,123.1C168.9,121.6 170.6,118.0 172.3,115.5C174.0,113.0 174.5,110.5 177.3,108.0C180.2,105.5 186.9,103.3 189.4,100.4C191.9,97.5 197.8,92.9 192.4,90.4C187.0,87.9 166.8,91.2 157.2,85.3C147.5,79.4 143.7,63.1 134.5,55.1C125.3,47.1 114.0,39.2 101.8,37.5C89.6,35.8 70.7,39.6 61.5,45.0C52.3,50.4 48.1,63.3 46.4,70Z" fill="#cfe07c"/><path d="M141.5,103.3C141.5,101.6 143.6,100.5 146.8,99.5C150.0,98.5 152.5,97.4 160.7,97.0C168.9,96.6 189.2,94.9 195.9,97.0C202.6,99.1 199.6,105.4 200.9,109.6C202.2,113.8 202.2,118.3 203.5,122.1C204.8,125.9 206.0,130.1 208.5,132.2C211.0,134.3 215.2,135.1 218.6,134.7C221.9,134.3 226.5,132.2 228.6,129.7C230.7,127.2 229.9,121.7 231.2,119.6C232.5,117.5 234.3,116.9 236.2,117.1C238.1,117.3 241.2,118.4 242.5,120.9C243.8,123.4 244.4,128.6 243.8,132.2C243.2,135.8 241.0,139.4 238.7,142.3C236.4,145.2 232.8,148.1 229.9,149.8C227.0,151.5 223.8,150.7 221.1,152.4C218.4,154.1 215.0,157.4 213.5,159.9C212.0,162.4 211.5,165.4 212.3,167.5C213.2,169.6 216.5,170.0 218.6,172.5C220.7,175.0 223.7,179.2 224.9,182.6C226.2,186.0 225.9,188.5 226.1,192.7C226.3,196.9 237.4,205.3 226.1,207.8C214.8,210.3 168.6,209.5 158.1,207.8C147.6,206.1 161.7,201.1 163.2,197.7C164.7,194.3 167.0,191.0 167.0,187.6C167.0,184.2 163.8,180.4 163.2,177.5C162.6,174.6 161.9,173.2 163.2,170.0C164.4,166.8 169.9,161.4 170.7,158.2C171.5,155.0 168.8,153.3 168.0,150.9C167.2,148.5 167.1,146.1 166.2,143.6C165.3,141.1 163.5,138.6 162.4,136.2C161.3,133.8 160.5,131.3 159.6,128.9C158.7,126.5 158.1,123.9 156.9,121.6C155.7,119.3 154.0,117.1 152.3,115.1C150.6,113.1 148.6,111.6 146.8,109.6C145.0,107.6 141.5,105.0 141.5,103.3Z" fill="#cfe07c"/><path d="M124.4,275C124.8,271.3 125.4,270.2 125.9,268C126.4,265.8 126.8,263.6 127.4,261.5C128.0,259.4 128.7,257.5 129.4,255.5C130.2,253.5 131.2,251.5 131.9,249.5C132.7,247.5 133.2,245.5 133.9,243.5C134.6,241.5 135.0,239.5 135.9,237.5C136.8,235.5 138.1,233.2 139.4,231.5C140.7,229.8 142.2,228.2 143.9,227C145.6,225.8 148.0,225.5 149.4,224.5C150.8,223.5 151.6,222.6 152.4,221C153.2,219.4 153.8,216.8 154.4,215C155.0,213.2 155.4,211.7 155.9,210C156.4,208.3 156.7,206.7 157.4,205C158.1,203.3 159.1,201.7 159.9,200C160.7,198.3 161.7,196.7 162.4,195C163.1,193.3 163.4,191.5 163.9,190C164.4,188.5 161.7,186.7 165.4,186C169.2,185.3 182.9,177.0 186.4,186C189.9,195.0 192.2,222.7 186.4,240C180.6,257.3 161.9,281.7 151.4,290C140.9,298.3 127.9,292.5 123.4,290C118.9,287.5 124.0,278.7 124.4,275Z" fill="#cfe07c"/><path d="M85.9,189.2C86.5,188.1 88.0,186.7 89.2,186.7C90.4,186.7 92.5,187.9 93.0,189.2C93.5,190.5 93.1,193.2 92.4,194.3C91.7,195.4 89.8,196.1 88.7,196.0C87.6,195.9 86.4,194.6 85.9,193.5C85.4,192.4 85.4,190.3 85.9,189.2Z" fill="#cfe07c"/><path d="M67.5,255.9C68.1,254.9 70.6,252.9 71.8,253.1C73.0,253.3 74.5,255.7 74.5,256.9C74.5,258.1 72.9,259.8 71.8,260.2C70.7,260.6 68.7,259.8 68.0,259.1C67.3,258.4 66.9,256.9 67.5,255.9Z" fill="#cfe07c"/><path d="M88.1,271.0C88.9,269.5 91.5,267.0 93.2,265.9C94.9,264.8 96.9,264.0 98.2,264.4C99.5,264.8 101.2,266.7 101.0,268.2C100.8,269.7 98.7,272.2 97.2,273.5C95.7,274.8 93.3,275.8 91.9,276.0C90.5,276.2 89.2,275.6 88.6,274.8C88.0,274.0 87.3,272.5 88.1,271.0Z" fill="#cfe07c"/><path d="M46.4,60C43.9,65.2 49.4,77.1 51.4,82C53.4,86.9 56.2,88.2 58.4,89.5C60.6,90.8 62.4,89.8 64.4,90C66.4,90.2 68.6,90.2 70.4,90.5C72.2,90.8 74.1,91.2 75.4,92C76.7,92.8 77.2,93.8 78.0,95C78.8,96.2 79.3,97.4 79.9,98.9C80.5,100.4 81.2,102.1 81.8,104C82.4,105.9 83.3,108.3 83.8,110.4C84.3,112.5 84.9,114.7 85.0,116.8C85.1,118.9 84.8,121.3 84.4,123.2C84.0,125.1 83.1,126.7 82.5,128.4C81.9,130.1 81.2,131.8 80.6,133.5C79.9,135.2 79.1,136.9 78.6,138.6C78.0,140.3 77.5,142.2 77.3,143.8C77.1,145.4 76.7,146.5 77.4,148C78.1,149.5 79.6,151.5 81.6,152.7C83.6,153.9 86.5,155.2 89.2,155.2C91.9,155.2 95.5,154.2 98.0,152.7C100.5,151.2 102.4,148.9 104.3,146.4C106.2,143.9 108.0,141.2 109.3,137.6C110.5,134.0 111.4,127.8 111.8,125.0C112.2,122.2 112.0,122.6 111.8,120.6C111.6,118.6 110.4,115.5 110.6,113.0C110.8,110.5 112.5,107.8 113.1,105.5C113.7,103.2 114.8,101.3 114.4,99.2C114.0,97.1 111.0,95.0 110.6,92.9C110.2,90.8 110.8,88.5 111.8,86.6C112.8,84.7 114.8,83.1 116.9,81.6C119.0,80.1 121.9,79.1 124.4,77.8C126.9,76.5 130.1,75.3 132.0,74.0C133.9,72.7 135.7,72.4 135.8,70.2C135.9,68.0 134.2,63.5 132.5,60.6C130.8,57.8 128.7,55.2 125.7,53.1C122.7,51.0 118.4,49.4 114.4,48.1C110.4,46.8 106.0,45.9 101.8,45.5C97.6,45.1 93.0,45.6 89.2,46.0C85.4,46.4 82.9,47.3 79.1,48.1C75.3,48.9 72.0,48.6 66.5,50.6C61.0,52.6 48.9,54.8 46.4,60Z" fill="#ffcf45"/><path d="M132.5,80.3C133.3,79.0 136.3,77.4 138.3,77.8C140.3,78.2 142.8,80.7 144.6,82.8C146.4,84.9 148.0,87.9 149.1,90.4C150.2,92.9 151.0,95.6 150.9,97.9C150.8,100.2 149.9,103.4 148.6,104.5C147.3,105.6 145.0,105.4 143.3,104.5C141.6,103.6 139.7,101.4 138.3,99.2C136.9,97.0 135.8,93.9 135.0,91.6C134.2,89.3 133.6,87.2 133.2,85.3C132.8,83.4 131.7,81.5 132.5,80.3Z" fill="#ffcf45"/><path d="M150.6,107.0C150.9,105.4 152.8,103.5 154.1,102.5C155.3,101.5 155.3,101.6 158.1,101.2C160.9,100.8 165.6,100.3 170.7,100.0C175.8,99.7 184.4,97.9 188.4,99.5C192.4,101.1 193.2,106.2 194.9,109.6C196.6,112.9 198.1,115.8 198.7,119.6C199.3,123.4 199.1,128.4 198.7,132.2C198.3,136.0 197.2,139.1 196.2,142.3C195.1,145.5 191.6,149.1 192.4,151.4C193.2,153.7 198.6,154.1 200.9,156.1C203.2,158.1 204.9,161.0 206.2,163.7C207.5,166.4 207.2,170.6 208.8,172.5C210.5,174.4 214.0,173.3 216.1,175.0C218.2,176.7 220.0,179.7 221.3,182.6C222.6,185.5 223.3,188.5 223.9,192.7C224.5,196.9 235.2,205.3 225.1,207.8C215.0,210.3 173.1,209.9 163.2,207.8C153.3,205.7 164.4,198.6 165.7,195.2C166.9,191.8 169.0,190.5 170.7,187.6C172.4,184.7 176.2,179.8 175.8,177.5C175.4,175.2 169.9,175.4 168.2,173.8C166.5,172.2 165.1,170.7 165.7,168.0C166.2,165.3 170.9,161.2 171.5,157.9C172.1,154.6 169.6,150.8 169.2,148.1C168.8,145.4 169.7,143.7 169.0,141.8C168.3,140.0 166.5,138.8 165.2,137.0C163.9,135.2 162.2,132.8 161.4,130.7C160.7,128.6 161.4,126.4 160.7,124.2C159.9,122.0 158.3,119.6 156.9,117.6C155.5,115.6 153.4,114.1 152.3,112.3C151.2,110.5 150.3,108.6 150.6,107.0Z" fill="#ffcf45"/><path d="M200.9,139.8C202.2,138.3 205.6,137.1 208.5,137.3C211.4,137.5 215.7,140.6 218.6,141.0C221.5,141.4 224.0,140.9 226.1,139.8C228.2,138.8 230.5,136.8 231.2,134.7C231.9,132.6 229.6,129.5 230.2,127.2C230.8,124.9 233.2,121.7 234.9,121.1C236.6,120.5 239.1,121.9 240.2,123.7C241.3,125.5 242.2,129.5 241.5,132.2C240.8,134.9 238.3,137.5 236.2,139.8C234.0,142.2 231.5,144.8 228.6,146.3C225.7,147.8 221.9,148.8 218.6,148.8C215.2,148.8 211.4,146.7 208.5,146.3C205.6,145.9 202.2,147.4 200.9,146.3C199.6,145.2 199.6,141.3 200.9,139.8Z" fill="#ffcf45"/><path d="M126.9,275C127.4,271.7 127.9,270.2 128.4,268C128.9,265.8 129.4,263.9 129.9,262C130.4,260.1 130.7,258.4 131.4,256.5C132.1,254.6 133.2,252.5 133.9,250.5C134.7,248.5 135.2,246.4 135.9,244.5C136.6,242.6 137.0,240.9 137.9,239C138.8,237.1 140.2,234.7 141.4,233C142.7,231.3 143.7,229.9 145.4,229C147.1,228.1 149.4,227.4 151.4,227.3C153.4,227.2 155.9,228.0 157.4,228.5C158.9,229.0 159.2,230.4 160.4,230.5C161.7,230.6 163.9,230.2 164.9,229C165.9,227.8 166.2,225.3 166.4,223C166.6,220.7 166.6,216.9 165.9,215.2C165.2,213.5 163.1,213.6 162.1,212.6C161.1,211.6 160.2,210.6 160.1,209.4C160.0,208.2 160.8,206.8 161.4,205.5C162.1,204.2 163.2,203.2 164.0,201.7C164.8,200.2 165.5,198.1 165.9,196.6C166.3,195.1 166.3,194.1 166.6,192.7C166.9,191.3 165.0,188.8 167.8,188C170.6,187.2 180.8,179.3 183.4,188C186.0,196.7 188.7,223.3 183.4,240C178.1,256.7 161.1,280.0 151.4,288C141.7,296.0 129.5,290.2 125.4,288C121.3,285.8 126.4,278.3 126.9,275Z" fill="#ffcf45"/><path d="M87.9,190.0C88.2,189.3 89.9,188.8 90.4,189.2C91.0,189.6 91.5,191.8 91.2,192.5C90.9,193.2 89.2,193.9 88.7,193.5C88.2,193.1 87.6,190.7 87.9,190.0Z" fill="#ffcf45"/><path d="M90.1,271.5C90.5,270.5 92.6,268.9 93.7,268.2C94.8,267.5 96.2,267.2 96.9,267.5C97.6,267.8 98.1,269.0 97.7,270.0C97.3,271.0 95.5,272.6 94.4,273.3C93.3,274.0 91.9,274.3 91.2,274.0C90.5,273.7 89.7,272.5 90.1,271.5Z" fill="#ffcf45"/><path d="M169.5,197.7C170.1,196.7 172.1,195.5 173.2,195.7C174.2,195.9 175.8,197.8 175.8,199.0C175.8,200.2 174.2,202.2 173.2,202.7C172.2,203.1 170.3,202.5 169.7,201.7C169.1,200.9 168.9,198.7 169.5,197.7Z" fill="#ffcf45"/><path d="M75.3,60.1C75.3,58.4 77.6,54.4 79.1,52.6C80.6,50.9 81.8,50.4 84.1,49.6C86.4,48.9 90.0,48.4 93.0,48.1C96.0,47.8 98.9,47.4 101.8,47.6C104.7,47.9 108.3,48.4 110.6,49.6C112.9,50.9 113.7,53.1 115.6,55.1C117.5,57.1 120.0,59.7 121.9,61.4C123.8,63.1 125.6,63.9 126.9,65.2C128.2,66.5 129.9,67.5 129.5,69.0C129.1,70.5 126.1,72.5 124.4,74.0C122.7,75.5 121.1,77.0 119.4,77.8C117.7,78.6 116.3,79.0 114.4,79.0C112.5,79.0 110.2,77.8 108.1,77.8C106.0,77.8 103.7,79.4 101.8,79.0C99.9,78.6 98.2,77.0 96.7,75.3C95.2,73.6 94.2,70.7 93.0,69.0C91.8,67.3 90.7,66.0 89.2,65.2C87.7,64.4 85.8,64.3 84.1,63.9C82.4,63.5 80.6,63.3 79.1,62.7C77.6,62.1 75.3,61.8 75.3,60.1Z" fill="#ff8a1c"/><path d="M71.9,67.5C72.6,66.2 74.4,65.4 75.4,66C76.4,66.6 78.0,68.8 78.1,71C78.2,73.2 76.2,76.2 75.9,79C75.6,81.8 76.9,86.1 76.4,88C75.9,89.9 73.9,91.2 72.9,90.4C71.9,89.6 70.9,85.7 70.6,83C70.3,80.3 71.0,76.6 71.2,74C71.4,71.4 71.2,68.8 71.9,67.5Z" fill="#ff8a1c"/><path d="M87.9,104.2C88.5,103.2 91.3,102.5 93.0,101.7C94.7,100.9 96.8,100.5 98.0,99.2C99.2,97.9 99.5,95.1 100.5,94.1C101.5,93.1 103.3,92.6 104.3,93.4C105.3,94.2 106.2,97.2 106.3,99.2C106.4,101.2 105.8,103.8 104.8,105.5C103.8,107.2 102.3,108.8 100.5,109.3C98.7,109.8 96.1,108.8 94.2,108.5C92.3,108.2 90.2,108.2 89.2,107.5C88.2,106.8 87.3,105.2 87.9,104.2Z" fill="#ff8a1c"/><path d="M89.2,115.5C90.7,114.7 92.7,113.9 94.2,114.3C95.7,114.7 96.7,118.5 98.0,118.1C99.3,117.7 100.5,112.6 101.8,111.8C103.0,111.0 104.6,111.5 105.5,113.0C106.4,114.5 107.2,118.3 107.3,120.6C107.4,122.9 106.4,125.8 106.3,126.9C106.2,128.1 106.9,126.5 106.8,127.5C106.7,128.4 106.3,130.5 105.5,132.6C104.7,134.7 103.3,137.8 101.8,140.1C100.3,142.4 98.6,144.9 96.7,146.4C94.8,147.9 92.5,148.9 90.4,148.9C88.3,148.9 85.6,147.9 84.1,146.4C82.6,144.9 81.8,142.4 81.6,140.1C81.4,137.8 83.0,134.9 82.9,132.6C82.8,130.3 80.9,127.9 80.9,126.3C80.9,124.7 82.2,124.3 82.9,123.1C83.7,121.9 84.4,120.6 85.4,119.3C86.5,118.0 87.7,116.3 89.2,115.5Z" fill="#ff8a1c"/><path d="M137.0,85.3C137.4,84.2 139.6,83.5 140.8,84.1C142.0,84.7 143.3,87.0 144.1,89.1C144.9,91.2 145.4,94.5 145.8,96.7C146.2,98.9 147.0,101.5 146.6,102.5C146.2,103.5 144.4,103.5 143.3,102.5C142.2,101.5 140.8,98.7 140.0,96.7C139.2,94.7 138.8,92.3 138.3,90.4C137.8,88.5 136.6,86.3 137.0,85.3Z" fill="#ff8a1c"/><path d="M182.5,99.6C184.5,99.3 186.5,100.6 188.0,101.8C189.5,103.0 190.8,104.7 191.7,106.9C192.6,109.1 193.1,112.8 193.5,115.2C193.9,117.7 194.1,119.2 194.1,121.6C194.1,124.0 193.8,127.1 193.5,129.8C193.2,132.5 192.7,135.4 192.2,138.0C191.7,140.6 191.2,143.0 190.4,145.3C189.6,147.6 188.7,150.2 187.1,151.7C185.5,153.2 182.7,154.2 180.7,154.5C178.7,154.8 176.6,154.7 175.2,153.6C173.8,152.5 172.5,150.1 172.1,148.1C171.7,146.1 172.7,143.4 172.5,141.7C172.3,140.0 171.6,139.2 170.7,138.0C169.8,136.8 168.1,135.9 167.0,134.4C165.9,132.9 164.8,130.9 164.3,128.9C163.9,126.9 163.9,124.5 164.3,122.5C164.8,120.5 165.9,118.4 167.0,117.0C168.1,115.6 169.8,115.7 170.7,114.3C171.6,112.9 171.6,110.6 172.5,108.8C173.4,107.0 174.4,104.8 176.1,103.3C177.8,101.8 180.5,99.8 182.5,99.6Z" fill="#ff8a1c"/><path d="M155.1,110.6C155.6,109.4 157.1,107.8 158.8,106.9C160.5,106.0 163.2,105.2 165.2,105.1C167.2,104.9 169.1,105.4 170.7,106.0C172.3,106.6 174.3,107.6 174.7,108.8C175.0,110.0 174.1,112.6 172.8,113.3C171.5,114.0 168.6,112.5 167.0,112.8C165.4,113.1 164.7,114.7 163.3,115.2C161.9,115.8 160.1,116.2 158.8,116.1C157.5,115.9 156.3,115.2 155.7,114.3C155.1,113.4 154.6,111.8 155.1,110.6Z" fill="#ff8a1c"/><path d="M231.2,124.7C231.9,123.6 233.6,122.5 234.9,122.6C236.2,122.7 238.3,123.8 239.2,125.2C240.0,126.6 240.4,129.4 240.0,131.0C239.6,132.6 238.0,134.2 236.7,134.7C235.4,135.1 233.4,134.6 232.4,133.7C231.4,132.8 230.6,130.7 230.4,129.2C230.2,127.7 230.4,125.8 231.2,124.7Z" fill="#ff8a1c"/><path d="M207.2,142.3C207.8,141.6 209.9,140.8 211.0,141.0C212.1,141.2 213.5,142.8 213.5,143.6C213.5,144.4 212.0,145.8 211.0,146.1C210.0,146.4 208.1,145.9 207.5,145.3C206.9,144.7 206.6,143.0 207.2,142.3Z" fill="#ff8a1c"/><path d="M185.8,162.4C186.9,160.0 189.3,156.5 191.4,155.4C193.5,154.3 196.6,154.7 198.4,156.1C200.2,157.5 201.5,160.8 202.2,163.7C202.9,166.6 201.4,171.7 202.5,173.8C203.6,175.9 206.0,175.9 208.5,176.3C211.0,176.7 215.0,175.1 217.3,176.3C219.6,177.6 221.1,180.9 222.4,183.8C223.7,186.7 224.4,189.9 224.9,193.9C225.4,197.9 233.2,205.5 225.6,207.8C218.0,210.1 187.3,209.3 179.5,207.8C171.7,206.3 179.6,200.8 178.8,199.0C178.0,197.2 176.2,197.9 174.8,197.2C173.4,196.5 171.7,195.9 170.5,194.7C169.3,193.5 167.4,191.5 167.7,190.1C167.9,188.7 170.2,188.5 172.0,186.4C173.8,184.3 176.1,179.0 178.3,177.5C180.5,176.0 184.2,178.8 185.3,177.5C186.4,176.2 184.7,172.5 184.8,170.0C184.9,167.5 184.7,164.8 185.8,162.4Z" fill="#ff8a1c"/><path d="M167.0,168.0C167.6,167.1 169.7,165.9 170.7,166.2C171.7,166.4 173.2,168.4 173.2,169.5C173.2,170.6 171.7,172.2 170.7,172.5C169.7,172.8 167.8,172.2 167.2,171.5C166.6,170.8 166.4,168.9 167.0,168.0Z" fill="#ffcf45"/><path d="M122.1,271.0C123.3,270.2 127.4,268.5 128.4,270.0C129.5,271.5 129.4,278.5 128.4,280.1C127.4,281.7 123.8,280.4 122.6,279.5C121.4,278.6 121.2,276.4 121.1,275.0C121.0,273.6 120.9,271.8 122.1,271.0Z" fill="#ff8a1c"/><path d="M121.9,273C122.4,271.1 124.2,270.7 125.4,270.5C126.7,270.3 128.4,272.0 129.4,272C130.4,272.0 131.1,271.8 131.7,270.6C132.3,269.4 132.6,266.6 133.0,264.8C133.4,263.0 133.6,261.6 134.2,259.7C134.8,257.8 136.1,255.2 136.8,253.2C137.6,251.2 138.0,249.4 138.7,247.5C139.3,245.6 139.8,243.5 140.7,241.7C141.6,239.9 142.8,238.1 143.9,236.6C145.0,235.1 145.8,233.6 147.1,232.7C148.4,231.8 150.3,231.3 151.6,231.4C152.9,231.5 153.9,232.0 155.0,233C156.1,234.0 157.0,236.7 158.0,237.2C159.0,237.7 160.2,236.4 161.2,235.9C162.2,235.4 162.9,234.6 163.8,234C164.7,233.4 165.8,232.9 166.6,232.4C167.4,231.9 168.1,232.5 168.5,231.2C168.9,229.9 168.8,226.6 169.1,224.8C169.4,223.0 169.4,221.5 170.4,220.3C171.4,219.1 173.7,218.2 174.9,217.5C176.2,216.8 177.4,217.2 177.9,216C178.4,214.8 177.8,212.2 177.9,210C178.1,207.8 179.2,205.4 178.8,203C178.4,200.6 176.3,197.9 175.2,195.6C174.1,193.3 169.7,190.3 172.4,189C175.1,187.7 181.6,187.8 191.4,188C201.2,188.2 224.7,181.3 231.4,190C238.1,198.7 239.7,230.3 231.4,240C223.1,249.7 194.7,240.5 181.4,248C168.1,255.5 158.9,278.3 151.4,285C143.9,291.7 141.2,288.5 136.4,288C131.6,287.5 124.8,284.5 122.4,282C120.0,279.5 121.4,274.9 121.9,273Z" fill="#ff8a1c"/><path d="M171.5,188.3C171.3,185.9 173.1,183.0 174.3,181.0C175.5,179.0 176.5,177.8 178.8,176.4C181.1,175.0 186.0,174.1 188.0,172.7C190.0,171.3 186.1,168.9 190.7,168.2C195.3,167.4 209.2,164.8 215.4,168.2C221.7,171.5 226.1,181.9 228.2,188.3C230.3,194.7 230.3,201.7 228.2,206.6C226.1,211.5 220.6,212.0 215.4,217.5C210.2,223.0 203.2,235.8 197.1,239.5C191.0,243.2 182.2,240.7 178.8,239.5C175.5,238.3 177.0,234.6 177.0,232.2C177.0,229.8 178.5,227.2 178.8,224.8C179.1,222.4 179.0,219.9 178.8,217.5C178.7,215.1 177.9,212.6 177.9,210.2C177.9,207.8 179.2,205.3 178.8,202.9C178.4,200.5 176.4,198.0 175.2,195.6C174.0,193.2 171.7,190.7 171.5,188.3Z" fill="#ff8a1c"/><path d="M81.1,51.3C81.6,50.4 84.2,49.8 84.9,50.1C85.6,50.4 85.9,52.2 85.4,53.1C84.9,54.0 82.8,55.9 82.1,55.6C81.4,55.3 80.6,52.2 81.1,51.3Z" fill="#ff1a10"/><path d="M97.5,51.3C97.9,50.5 99.2,50.0 99.8,50.6C100.3,51.2 100.9,53.9 100.8,55.1C100.7,56.4 99.8,58.1 99.2,58.1C98.7,58.1 97.8,56.2 97.5,55.1C97.2,54.0 97.1,52.0 97.5,51.3Z" fill="#ff1a10"/><path d="M104.8,68.2C105.5,67.1 107.6,65.5 108.8,65.7C110.0,66.0 111.5,68.3 111.8,69.7C112.1,71.1 111.5,73.2 110.8,74.0C110.0,74.8 108.3,75.1 107.3,74.8C106.3,74.5 105.2,73.3 104.8,72.2C104.4,71.1 104.1,69.3 104.8,68.2Z" fill="#ff1a10"/><path d="M87.4,133.8C87.6,132.8 88.8,132.0 89.2,132.6C89.6,133.2 89.9,136.5 89.7,137.6C89.5,138.7 88.3,139.5 87.9,138.9C87.5,138.3 87.2,134.9 87.4,133.8Z" fill="#ff1a10"/><path d="M182.5,102.4C184.0,102.2 185.9,103.1 187.1,104.2C188.3,105.3 189.1,107.0 189.8,108.8C190.5,110.6 190.8,113.1 191.1,115.2C191.4,117.3 191.7,119.3 191.7,121.6C191.7,123.9 191.4,126.5 191.1,128.9C190.8,131.3 190.3,133.8 189.8,136.2C189.3,138.6 188.8,141.4 188.0,143.5C187.2,145.6 186.5,147.6 185.3,149.0C184.1,150.4 182.2,151.4 180.7,151.7C179.2,152.0 177.2,151.7 176.1,150.8C175.0,149.9 174.5,147.9 174.3,146.2C174.2,144.5 175.3,142.5 175.2,140.8C175.0,139.1 174.3,137.6 173.4,136.2C172.5,134.8 170.8,133.9 169.7,132.5C168.6,131.1 167.4,129.7 167.0,128.0C166.6,126.3 166.6,124.2 167.0,122.5C167.4,120.8 168.6,119.1 169.7,117.9C170.8,116.7 172.5,116.6 173.4,115.2C174.3,113.8 174.4,111.4 175.2,109.7C176.0,108.0 176.8,106.3 178.0,105.1C179.2,103.9 181.0,102.6 182.5,102.4Z" fill="#ff1a10"/><path d="M158.8,110.2C159.2,109.7 160.5,109.2 161.1,109.3C161.7,109.4 162.6,110.5 162.6,111.0C162.6,111.5 161.4,112.4 160.8,112.6C160.2,112.8 159.1,112.5 158.8,112.1C158.5,111.7 158.4,110.7 158.8,110.2Z" fill="#ff1a10"/><path d="M233.7,126.2C234.2,125.4 235.5,124.1 236.2,124.7C236.9,125.3 237.9,128.4 237.7,129.7C237.5,131.0 235.9,132.5 235.2,132.5C234.4,132.5 233.4,130.8 233.2,129.7C232.9,128.6 233.2,127.0 233.7,126.2Z" fill="#ff1a10"/><path d="M189.6,159.9C190.7,158.6 193.3,157.0 194.7,157.4C196.1,157.8 197.5,160.3 198.2,162.4C198.9,164.5 199.0,167.7 198.7,170.0C198.4,172.3 197.4,175.2 196.2,176.5C195.0,177.8 192.7,178.4 191.4,177.8C190.1,177.2 189.0,174.9 188.4,172.8C187.8,170.7 187.7,167.2 187.9,165.0C188.1,162.8 188.5,161.2 189.6,159.9Z" fill="#ff1a10"/><path d="M175.2,185.5C175.2,184.1 176.7,182.2 177.9,181.0C179.1,179.8 181.0,178.8 182.5,178.2C184.0,177.6 185.6,177.0 187.0,177.3C188.4,177.6 189.8,178.7 190.7,180.1C191.6,181.5 192.5,183.8 192.5,185.5C192.5,187.2 191.8,188.9 190.7,190.1C189.6,191.3 187.6,192.6 186.1,192.9C184.6,193.2 183.0,192.5 181.6,191.9C180.2,191.3 179.0,190.3 177.9,189.2C176.8,188.1 175.2,186.9 175.2,185.5Z" fill="#ff1a10"/><path d="M177.9,189.2C178.7,188.9 180.5,190.8 181.6,191.9C182.7,193.0 184.2,194.2 184.7,195.6C185.1,197.0 184.8,198.8 184.3,200.2C183.8,201.6 182.6,202.3 181.7,203.8C180.8,205.3 179.3,209.8 178.8,209.3C178.3,208.9 178.8,203.7 178.5,201.1C178.2,198.5 177.1,195.8 177.0,193.8C176.9,191.8 177.1,189.5 177.9,189.2Z" fill="#ff1a10"/><path d="M204.4,182.8C205.8,181.6 208.1,179.7 209.9,179.1C211.7,178.5 213.7,178.5 215.4,179.1C217.1,179.7 218.9,181.3 220.0,182.8C221.1,184.3 221.2,186.5 221.8,188.3C222.4,190.1 223.3,191.7 223.6,193.8C223.9,195.9 224.5,199.3 223.6,201.1C222.7,202.9 219.8,203.9 218.1,204.7C216.4,205.5 215.0,206.2 213.6,205.8C212.2,205.4 211.4,203.4 209.9,202.0C208.4,200.6 206.2,198.3 204.4,197.4C202.6,196.5 200.4,196.9 198.9,196.5C197.4,196.1 195.5,195.8 195.3,194.7C195.2,193.6 196.9,191.5 198.0,190.1C199.1,188.7 200.6,187.7 201.7,186.5C202.8,185.3 203.0,184.0 204.4,182.8Z" fill="#ff1a10"/><path d="M178.8,209.3C179.3,207.5 180.8,204.6 181.6,202.9C182.4,201.2 183.2,198.7 183.9,199.3C184.7,199.9 185.0,205.2 186.1,206.6C187.2,208.0 189.3,208.0 190.7,208.0C192.1,208.0 193.3,206.5 194.4,206.6C195.5,206.7 196.6,207.3 197.5,208.4C198.4,209.5 199.2,211.5 199.8,213.0C200.4,214.5 201.1,216.0 200.8,217.5C200.5,219.0 199.4,220.9 198.0,222.1C196.6,223.3 193.7,223.7 192.5,224.8C191.3,225.9 190.7,227.1 190.7,228.5C190.7,229.9 191.7,231.6 192.5,233.1C193.3,234.6 196.1,237.2 195.3,237.6C194.6,238.0 190.0,236.5 188.0,235.4C186.0,234.3 184.5,232.9 183.4,231.1C182.3,229.3 182.2,226.9 181.6,224.8C181.0,222.7 180.2,220.2 179.7,218.4C179.2,216.6 179.0,215.4 178.8,213.9C178.7,212.4 178.3,211.1 178.8,209.3Z" fill="#ff1a10"/><path d="M171.5,226.7C171.9,225.8 173.5,224.7 174.3,224.8C175.1,225.0 176.1,226.7 176.1,227.6C176.1,228.5 175.0,229.9 174.3,230.3C173.6,230.7 172.4,230.6 171.9,230.0C171.4,229.4 171.1,227.6 171.5,226.7Z" fill="#ff1a10"/><path d="M190.2,180.1C190.9,177.7 194.1,176.1 196.2,175.9C198.3,175.7 201.4,177.2 202.6,179.1C203.8,181.0 204.3,185.3 203.5,187.4C202.7,189.5 199.9,191.2 198.0,191.6C196.1,192.0 193.3,192.0 192.0,190.1C190.7,188.2 189.5,182.5 190.2,180.1Z" fill="#ffcf45"/><path d="M192.0,181.3C192.5,179.7 194.8,178.6 196.2,178.6C197.6,178.6 199.6,180.0 200.4,181.3C201.2,182.6 201.4,185.2 200.8,186.5C200.2,187.8 198.4,188.7 197.1,189.0C195.8,189.3 193.9,189.4 193.1,188.1C192.2,186.8 191.5,182.9 192.0,181.3Z" fill="#cfe07c"/><path d="M193.8,182.8C194.2,182.0 195.5,181.1 196.2,181.3C196.9,181.6 198.0,183.4 198.0,184.3C198.0,185.2 196.9,186.5 196.2,186.8C195.5,187.1 194.4,186.8 194.0,186.1C193.6,185.4 193.4,183.6 193.8,182.8Z" fill="#72b49a"/><path d="M183.6,199.6C184.2,197.9 186.5,195.8 188.0,195.6C189.5,195.4 191.7,196.9 192.5,198.3C193.3,199.7 193.6,202.4 193.1,203.8C192.6,205.2 190.8,206.6 189.4,206.9C188.0,207.2 185.7,206.8 184.7,205.6C183.7,204.4 183.0,201.3 183.6,199.6Z" fill="#ffcf45"/><path d="M185.2,200.3C185.6,199.3 187.1,198.0 188.0,197.8C188.9,197.6 190.1,198.5 190.7,199.3C191.2,200.2 191.6,201.9 191.3,202.9C191.0,203.9 189.8,204.9 188.9,205.1C188.0,205.3 186.4,204.8 185.8,204.0C185.2,203.2 184.8,201.3 185.2,200.3Z" fill="#cfe07c"/><path d="M200.4,200.7C201.0,198.8 202.9,197.9 204.4,197.8C205.9,197.7 208.3,199.0 209.5,200.3C210.7,201.6 211.5,203.8 211.4,205.6C211.3,207.4 210.0,209.7 208.8,211.0C207.6,212.3 205.7,213.8 204.4,213.5C203.1,213.2 201.8,211.4 201.1,209.3C200.4,207.2 199.8,202.6 200.4,200.7Z" fill="#ffcf45"/><path d="M187.2,213.9C187.2,213.1 188.9,211.3 189.8,211.3C190.7,211.3 192.4,213.1 192.4,213.9C192.4,214.8 190.7,216.4 189.8,216.4C188.9,216.4 187.2,214.8 187.2,213.9Z" fill="#ff8a1c"/><path d="M188.3,213.9C188.3,213.4 189.3,212.4 189.8,212.4C190.3,212.4 191.3,213.4 191.3,213.9C191.3,214.4 190.3,215.3 189.8,215.3C189.3,215.3 188.3,214.4 188.3,213.9Z" fill="#ffcf45"/><path d="M146.8,239.5C147.3,238.3 149.5,236.5 150.6,236.7C151.7,236.9 153.4,239.2 153.4,240.5C153.4,241.8 151.6,243.9 150.6,244.5C149.6,245.1 148.2,244.8 147.6,244.0C147.0,243.2 146.3,240.7 146.8,239.5Z" fill="#ff1a10"/><path d="M141.5,255.6C141.9,255.1 143.9,254.3 144.3,254.6C144.7,254.9 144.2,257.1 143.8,257.6C143.4,258.1 142.2,257.9 141.8,257.6C141.4,257.3 141.1,256.1 141.5,255.6Z" fill="#ff1a10"/><path d="M0.4,93.7C8.3,82.1 38.9,92.5 48.0,93.7C57.1,94.9 53.5,99.0 55.3,101.0C57.1,103.0 57.8,104.2 58.6,105.4C59.5,106.6 59.1,107.6 60.4,108.1C61.7,108.6 64.6,107.3 66.2,108.3C67.8,109.2 69.4,112.0 69.9,113.8C70.4,115.6 69.8,117.3 69.0,119.3C68.2,121.3 66.7,123.3 65.3,125.6C63.9,127.9 61.9,130.7 60.8,133.0C59.7,135.3 59.6,137.4 58.9,139.4C58.2,141.4 57.5,143.0 56.6,144.8C55.7,146.6 62.8,147.2 53.4,150.3C44.0,153.4 9.2,172.5 0.4,163.1C-8.4,153.7 -7.5,105.3 0.4,93.7Z" fill="#ffffff"/><path d="M30.2,117.4C31.1,116.4 32.5,115.7 34.3,116.0C36.0,116.3 38.6,119.1 40.7,119.3C42.8,119.5 45.5,117.4 47.0,117.4C48.5,117.5 49.5,118.6 49.8,119.6C50.0,120.6 49.4,122.5 48.5,123.5C47.6,124.5 45.9,125.3 44.3,125.6C42.7,125.9 40.6,125.4 38.8,125.1C37.0,124.8 34.8,123.7 33.3,123.8C31.8,123.9 30.4,125.9 29.7,125.6C29.0,125.3 29.0,123.4 29.1,122.0C29.2,120.6 29.3,118.4 30.2,117.4Z" fill="#72b49a"/><path d="M124.2,132.2C124.6,130.9 127.4,128.5 128.7,128.3C130.0,128.1 130.7,130.0 131.9,130.9C133.1,131.8 134.3,132.7 135.8,133.5C137.3,134.3 139.3,135.0 140.9,136C142.5,137.0 143.8,138.8 145.4,139.3C147.0,139.9 149.0,139.0 150.6,139.3C152.2,139.6 153.7,140.2 155.0,141.2C156.3,142.1 157.6,143.8 158.3,145C159.1,146.2 159.6,146.8 159.5,148.2C159.4,149.6 158.2,151.7 157.6,153.4C157.0,155.1 156.5,157.2 155.7,158.5C154.8,159.8 153.6,160.2 152.5,161.1C151.4,161.9 150.4,162.8 149.3,163.6C148.2,164.4 147.1,165.1 146.1,166.2C145.1,167.3 144.3,169.0 143.5,170.1C142.7,171.2 142.2,172.3 141.4,173C140.6,173.7 139.6,174.6 138.4,174.5C137.2,174.4 135.7,173.2 134.4,172.5C133.2,171.8 131.7,171.2 130.9,170C130.1,168.8 129.8,167.0 129.4,165C129.0,163.0 128.5,160.5 128.4,158C128.3,155.5 128.5,151.5 128.9,150C129.3,148.5 130.5,149.6 130.7,148.9C130.9,148.2 129.8,146.8 130.0,145.7C130.2,144.6 132.0,143.6 131.9,142.5C131.8,141.4 130.3,140.4 129.4,139.3C128.5,138.2 127.1,137.2 126.2,136C125.3,134.8 123.8,133.5 124.2,132.2Z" fill="#ffffff"/><circle cx="130.7" cy="157.4" r="6.3" fill="#72b49a"/><path d="M153.4,177.9 158.4,176.6 159.2,181.7 154.1,183.4Z" fill="#ffffff"/><path d="M142.1,198.0 145.8,196.8 145.1,200.0Z" fill="#ffffff"/><path d="M120.9,250.8C121.1,250.3 122.5,250.0 122.9,250.3C123.4,250.6 123.8,251.9 123.6,252.4C123.4,252.9 122.0,253.4 121.6,253.1C121.1,252.8 120.7,251.3 120.9,250.8Z" fill="#ffffff"/><g fill="none" stroke="#6f7a78" stroke-width="0.5" stroke-linejoin="round"><path d="M193.9,108.3 191.1,112.9 189.3,116.6 187.5,122.0 189.3,127.5 193.0,131.2 191.1,134.8 189.3,140.3 191.1,144.0 195.7,143.1 198.4,146.7 201.2,150.4 204.8,152.2 210.3,151.3 214.0,153.1"/><path d="M171.9,101.9 174.7,105.6 177.4,111.1 175.6,116.6 171.9,119.3 170.1,123.9 172.9,128.4 174.7,133.0 171.9,136.7 168.3,140.3 167.4,144.0 171.9,147.6 177.4,148.6 184.7,146.7 189.3,144.0"/><path d="M144.5,134.8 150.0,133.0 155.5,131.2 161.0,130.3 164.6,126.6 170.1,123.9"/><path d="M193.0,131.2 197.5,129.4 203.0,132.1 208.5,130.3 214.0,128.4 219.5,129.4 223.1,125.7 228.6,123.9 232.3,119.3 235.0,115.6 239.6,113.8 242.3,112.9"/><path d="M203.0,132.1 202.1,136.7 204.8,141.2 210.3,144.0 215.8,143.1 220.4,145.8 218.6,150.4 214.0,153.1"/><path d="M220.4,145.8 225.0,144.0 230.4,141.2 232.3,134.8 235.9,132.1 241.4,133.0"/><path d="M230.4,141.2 233.2,146.7 237.8,149.5 240.9,148.6"/><path d="M150.0,134.8 151.8,140.3 150.9,145.8 150.0,148.6"/><path d="M161.0,150.0 158.2,155.5 155.5,160.1 152.7,163.7 153.7,168.3 151.8,173.8 150.0,176.5"/><path d="M195.7,150.0 193.0,155.5 191.1,160.1 189.3,165.5 191.1,171.0 189.3,176.5 186.6,180.2 184.7,183.8"/><path d="M189.3,165.5 195.7,161.0 200.3,158.2 204.8,158.2 208.5,156.4 211.2,152.7 214.0,150.0"/><path d="M208.5,156.4 210.3,161.9 214.0,164.6 217.1,165.7"/><path d="M164.6,176.5 167.4,171.9 173.8,169.2 179.3,167.4 184.7,164.6 189.3,165.5"/><path d="M180.2,191.1 182.0,197.5 181.1,203.0 179.3,208.5 180.2,214.0 182.9,218.6 183.8,224.0"/><path d="M150.0,192.0 155.5,191.1 160.1,189.3 161.9,188.4"/><path d="M203.9,191.1 203.0,184.7 202.1,177.4 203.0,170.1 204.8,164.6 204.8,158.2"/><path d="M121.9,237.0 124.7,242.5 122.9,248.0 125.6,253.5 130.2,255.3 133.8,259.9 132.9,265.4"/><path d="M127.4,232.5 132.0,234.3 136.6,238.0 138.4,243.4 136.6,248.0 139.3,253.5 144.8,255.3 149.4,259.0"/><path d="M136.6,238.0 143.0,237.0 147.5,234.3 153.9,230.6"/><path d="M111.9,247.1 114.6,252.6 112.8,258.1 117.4,262.6 121.9,261.7 125.6,253.5"/><path d="M158.5,239.8 164.0,238.9 168.6,234.3 170.4,228.8 175.0,226.1 176.8,220.6 175.0,216.0 178.6,212.4 185.9,210.5 191.4,206.0 195.1,200.5 200.0,198.7"/><path d="M168.6,234.3 173.1,238.9 175.9,241.6"/><path d="M175.0,216.0 169.5,214.2 164.0,210.5 160.3,205.1 158.5,198.7 159.4,195.0"/><path d="M147.2,217.9 150.3,213.3 155.8,211.5 160.3,205.1"/><path d="M191.4,206.0 193.2,211.5 191.4,216.9 195.1,221.5 200.0,222.4"/><path d="M117.4,201.4 120.1,206.0 118.3,211.5 121.9,214.2 127.4,210.5"/><path d="M124.7,163.4 126.6,156.1 129.3,149.7 133.0,144.2 137.5,142.4 143.0,141.5 148.5,137.8 151.2,132.3 153.1,125.0"/><path d="M148.5,137.8 153.1,141.5 158.6,139.6 165.0,136.0 169.5,132.3 172.3,127.7 173.2,125.0"/><path d="M169.5,132.3 174.1,134.1 179.6,133.2 185.1,130.5 190.0,129.6"/><path d="M153.1,141.5 154.0,148.8 155.8,156.1 154.9,162.5 152.2,168.0 150.3,173.4 148.5,175.3"/><path d="M167.7,183.5 171.4,178.0 170.4,170.7 173.2,164.3 171.4,157.9 174.1,152.4 172.3,145.1 168.6,141.5 169.5,132.3"/><path d="M139.4,175.3 136.6,181.7 133.0,187.2 127.5,191.7 123.8,196.3 121.1,199.0"/><path d="M158.6,176.2 155.8,181.7 150.3,184.4 144.8,185.3 140.3,189.9 138.4,195.4 139.4,199.0"/><path d="M137.9,147.9 137.2,153.3 139.4,157.0 137.9,161.6 140.3,164.3"/><path d="M125.7,115.5 134.5,118.1 144.5,123.1 149.6,126.9 152.1,123.1"/><path d="M149.6,126.9 150.8,142.0"/><path d="M168.5,123.1 169.7,130.7 166.0,135.7 169.7,142.0"/><path d="M187.4,115.5 186.1,125.6 189.9,135.7 188.6,142.0"/><path d="M197.4,123.1 207.0,120.6"/><path d="M110.8,78.1 113.3,88.1 120.9,95.7 128.4,95.7"/><path d="M77.8,156.4 85.3,155.2 91.6,152.7 99.2,155.2"/><path d="M74.0,182.9 80.3,186.7 86.6,193.0 94.1,198.0 101.7,201.8 108.0,200.5"/><path d="M71.5,193.0 77.8,198.0 84.1,205.5 90.4,213.1 94.1,220.7 92.9,230.7"/><path d="M87.8,208.9 91.6,217.7 92.9,227.7 90.4,235.3"/><path d="M115.5,232.8 116.8,240.3 123.1,245.4 128.1,242.8 131.9,246.6"/><path d="M115.5,270.5 123.1,268.0 126.9,260.5 133.2,258.0 139.5,260.5"/></g><g fill="none" stroke="#151515" stroke-width="0.7" stroke-linejoin="round"><path d="M77.4,50.1 79.3,53.7 77.4,58.3 74.7,62.9 77.4,64.7 80.2,65.6 84.7,62.9 89.3,63.8 92.0,67.4 94.8,72.0 96.6,75.6 98.4,79.3 103.0,80.2 108.5,78.4 113.1,75.6 117.6,73.8 120.4,71.1 123.1,70.2 126.8,73.8 130.4,77.5 133.2,79.3 131.4,84.8 130.4,90.3 127.7,94.8 128.6,100.3 127.7,105.8 128.6,111.3 127.7,114.0 121.1,125.0 122.0,128.7 123.8,131.4 121.1,130.5 117.4,128.7 113.8,134.1 110.1,139.6 105.5,145.1 103.7,148.8 107.4,152.4 111.0,156.1 114.7,157.9 118.3,157.0 119.3,154.3 116.5,153.3 116.0,155.7 117.4,159.7 113.8,161.6 117.4,164.3 122.0,164.3 124.7,163.4"/><path d="M133.2,79.3 137.8,78.8 143.2,78.4 146.3,79.5"/><path d="M124.7,163.4 126.6,168.0 129.3,171.6 132.0,176.2 135.7,177.1 139.4,175.3 143.0,174.4 145.8,173.4 148.5,175.3 150.3,178.0 154.0,178.0 158.6,176.2 162.2,176.2 165.0,178.9 167.7,183.5 170.4,185.3 174.1,185.3 177.8,188.1 180.5,191.7 183.2,188.1 185.1,184.4 187.8,187.2 190.0,189.9 189.3,191.1 193.0,194.8 195.7,197.5 198.4,195.7 200.3,193.0 203.9,191.1 206.7,188.4 208.5,189.3 210.3,186.6 213.1,189.3 216.7,191.1 220.4,193.0 223.1,193.0 225.0,192.0"/><path d="M124.7,163.4 120.2,166.1 117.4,169.8 114.7,168.9 111.9,170.7 108.3,173.4 105.5,172.5 101.9,173.4 100.1,176.2 102.8,178.9 105.5,181.7 108.3,185.3 107.4,189.0 109.2,193.6 108.3,199.0 111.0,195.0 112.8,199.6 117.4,201.4 121.9,199.6 124.7,205.1 127.4,210.5 129.3,214.2 132.0,213.3 134.7,215.1 138.4,217.9 141.1,220.6 143.0,218.8 145.7,216.0 147.2,217.9 148.4,222.4 152.1,226.1 154.8,230.6 157.6,234.3 160.3,239.8 162.2,245.3 164.0,249.8 165.1,253.1"/><path d="M129.3,214.2 127.4,218.8 125.6,222.4 121.9,225.2 118.3,227.0 115.5,228.8 111.9,229.7 109.1,232.5 105.5,234.3 102.7,237.0 100.9,239.8 100.0,240.7 96.7,246.6 91.6,251.7 87.8,245.4 84.1,241.6 80.3,244.1 79.0,251.7 80.3,257.5"/><path d="M111.8,195.0 115.5,198.8 120.6,196.3 126.9,202.6 129.4,210.1 128.1,215.1 131.9,213.1"/><path d="M103.0,175.3 100.4,177.8 106.7,184.1 108.0,193.0 111.8,201.8"/></g></g><path d="M62.5,61.7 68,54 75.5,49 85.6,45.3 97,42.3 105.8,44 115.8,44.8 126,50.4 133.5,56.7 138,62.5 143,75.5 148,85.6 153,94.5 160.7,97.7 170.7,97 183,100.7 184.6,102 192,104.5 194.7,112 199.7,118.4 204.7,120.9 216,118.4 222.4,112 228.7,104.5 233.7,102 238.7,99.5 245,95.2 243.8,102 242.5,105.8 241.8,114.6 240.8,124.7 241.3,134.7 240.8,144.8 238.2,150 237.2,155.5 231.9,157.6 224.6,158.4 221.5,162.6 217,166.3 214.8,168.7 216.3,172.2 219.3,176.7 221.5,181.1 223,186.3 224.4,191.5 225.2,197.4 224.4,201.9 221.8,204.5 219.9,207.8 221,211.6 213.6,206.5 211,209 209.8,214 204.7,219 200.5,223.5 195.1,226.1 193.5,230.6 196,234.3 195,237.3 191,236.3 185.5,236.8 180,238 175.9,241.6 173.1,245.3 170.4,248.9 166.7,252.6 165,258.9 162,262.6 157.6,267 153.1,271.5 148.7,275.2 144.3,277.4 138.3,281.1 133.9,284.1 129.4,287.8 126.5,291.5 124.3,295.2 120.6,298.1 116.9,301.1 113.1,301.9 112.4,299.6 115.4,298.9 118.3,297.4 122,296.7 120.6,294.4 118.3,293 120.6,289.3 116.9,290.7 115.4,288.8 115.4,287 116.1,283.3 119.1,280.4 121.3,275.9 122,270.7 119.8,267 115.4,264.1 110.2,263.3 105.7,264.8 101.3,269.3 96.9,275.2 93.1,282.2 92,280.8 88.2,275.8 84.4,270.8 80.6,264.5 75.6,260.7 69.3,256.9 68,251.9 64.2,245.6 58,241.8 50.4,241.8 44.1,241.3 45.3,236.7 49.1,230.4 52.9,224.2 54.2,217.9 58,212.8 65.5,210.3 70.5,204 71.8,197.7 74.3,190 75.6,180 76.8,170 75.6,160 71.8,152.4 65.5,148.6 58,144.8 50.4,146 44,151 35.3,149.9 26.4,152.4 21.4,148.6 22.7,142.3 26.4,132 29,122 35.3,117.6 45.3,120.9 49,115.9 54,110.8 60.5,105.8 59,102 60.5,93 63,85.6 66.7,78 70.5,69.3 68,65.5Z" fill="none" stroke="#1c1c1c" stroke-width="0.8" stroke-linejoin="round"/><g fill="none" stroke="#0fe60f" stroke-width="1.25" stroke-linejoin="round" stroke-linecap="round"><path d="M161.9,188.4 159.1,193.0 155.5,198.4 151.8,203.9 157.6,195.0 153.9,200.5 149.4,206.9 145.7,211.5 143.0,216.9 141.1,222.4 139.3,226.1 132.9,228.8 127.4,232.5 121.9,237.0 116.5,242.5 111.9,247.1 106.4,249.8 102.7,254.4 100.9,260.8 99.2,263 95.6,272.5 93,281.9"/><path d="M139.3,226.1 144.8,226.1 150.3,227.0 153.9,230.6 156.7,235.2 158.5,239.8 157.6,243.4 153.9,246.2 151.2,251.7 149.4,259.0 148.4,265.4 147.9,269.0 148.3,273.5"/></g><g transform="translate(-2.7,1.0)"><text class="lgt" x="168.3" y="261.6">Legend</text><line x1="168.5" y1="271.5" x2="184.5" y2="271.5" stroke="#444" stroke-width="0.5"/><text class="lg" x="187.3" y="273.1">Provincial boundary</text><line x1="168.5" y1="282.4" x2="184.5" y2="282.4" stroke="#bbb" stroke-width="0.5"/><text class="lg" x="187.3" y="284">Prefecture boundary</text><line x1="168.5" y1="292.9" x2="184.5" y2="292.9" stroke="#0fe60f" stroke-width="1.25"/><text class="lg" x="187.3" y="294.5">Willow Palisade</text><text class="lgb" x="168.5" y="304.2">Kernel density of trees<tspan font-size="4.2"> (km²)</tspan></text><rect x="168.5" y="307.8" width="16" height="7.4" fill="#ffffff" stroke="#8a8a8a" stroke-width="0.4"/><text class="lg" x="187.3" y="313.1">0</text><rect x="168.5" y="318.6" width="16" height="7.4" fill="#72b49a" stroke="#8a8a8a" stroke-width="0.4"/><text class="lg" x="187.3" y="323.9">0 - 0.253694709</text><rect x="168.5" y="329.4" width="16" height="7.4" fill="#cfe07c" stroke="#8a8a8a" stroke-width="0.4"/><text class="lg" x="187.3" y="334.7">0.253694709 - 0.436504132</text><rect x="168.5" y="340.3" width="16" height="7.4" fill="#ffcf45" stroke="#8a8a8a" stroke-width="0.4"/><text class="lg" x="187.3" y="345.6">0.436504132 - 0.596928727</text><rect x="168.5" y="351.1" width="16" height="7.4" fill="#ff8a1c" stroke="#8a8a8a" stroke-width="0.4"/><text class="lg" x="187.3" y="356.4">0.596928727 - 0.753622518</text><rect x="168.5" y="361.9" width="16" height="7.4" fill="#ff1a10" stroke="#8a8a8a" stroke-width="0.4"/><text class="lg" x="187.3" y="367.2">0.753622518 - 0.951355159</text></g><rect x="18.1" y="349.5" width="63.8" height="2.9" fill="#fff" stroke="#000" stroke-width="0.4"/><rect x="18.1" y="349.5" width="4.0" height="2.9" fill="#000"/><rect x="26.1" y="349.5" width="4.0" height="2.9" fill="#000"/><rect x="34.1" y="349.5" width="16.0" height="2.9" fill="#000"/><rect x="66.0" y="349.5" width="16.0" height="2.9" fill="#000"/><text class="sb" x="18.1" y="347.6" text-anchor="middle">0</text><text class="sb" x="26.1" y="347.6" text-anchor="middle">50</text><text class="sb" x="34.1" y="347.6" text-anchor="middle">100</text><text class="sb" x="50.0" y="347.6" text-anchor="middle">200</text><text class="sb" x="66.0" y="347.6" text-anchor="middle">300</text><text class="sb" x="81.9" y="347.6" text-anchor="middle">400</text><text class="sb" x="83.2" y="352.6" font-size="4.5">Kilometers</text><rect x="10.4" y="10.4" width="242.29999999999998" height="363.3" fill="none" stroke="#3a3a3a" stroke-width="0.9"/><g class="ax"><text x="53.4" y="6.4" text-anchor="middle" textLength="23.3" lengthAdjust="spacingAndGlyphs">120°0'0"E</text><line class="tk" x1="53.4" y1="9.200000000000001" x2="53.4" y2="10.4"/><text x="106.8" y="6.4" text-anchor="middle" textLength="23.3" lengthAdjust="spacingAndGlyphs">125°0'0"E</text><line class="tk" x1="106.8" y1="9.200000000000001" x2="106.8" y2="10.4"/><text x="161.4" y="6.4" text-anchor="middle" textLength="23.3" lengthAdjust="spacingAndGlyphs">130°0'0"E</text><line class="tk" x1="161.4" y1="9.200000000000001" x2="161.4" y2="10.4"/><text x="217.4" y="6.4" text-anchor="middle" textLength="23.3" lengthAdjust="spacingAndGlyphs">135°0'0"E</text><line class="tk" x1="217.4" y1="9.200000000000001" x2="217.4" y2="10.4"/><text x="36.9" y="382.2" text-anchor="middle" textLength="23.3" lengthAdjust="spacingAndGlyphs">115°0'0"E</text><line class="tk" x1="36.9" y1="373.7" x2="36.9" y2="374.9"/><text x="108.5" y="382.2" text-anchor="middle" textLength="23.3" lengthAdjust="spacingAndGlyphs">120°0'0"E</text><line class="tk" x1="108.5" y1="373.7" x2="108.5" y2="374.9"/><text x="181.2" y="382.2" text-anchor="middle" textLength="23.3" lengthAdjust="spacingAndGlyphs">125°0'0"E</text><line class="tk" x1="181.2" y1="373.7" x2="181.2" y2="374.9"/><text transform="translate(5.4,29.8) rotate(-90)" text-anchor="middle" textLength="22.6" lengthAdjust="spacingAndGlyphs">55°0'0"N</text><line class="tk" x1="9.200000000000001" y1="29.8" x2="10.4" y2="29.8"/><text transform="translate(5.4,115.8) rotate(-90)" text-anchor="middle" textLength="22.6" lengthAdjust="spacingAndGlyphs">50°0'0"N</text><line class="tk" x1="9.200000000000001" y1="115.8" x2="10.4" y2="115.8"/><text transform="translate(5.4,203.5) rotate(-90)" text-anchor="middle" textLength="22.6" lengthAdjust="spacingAndGlyphs">45°0'0"N</text><line class="tk" x1="9.200000000000001" y1="203.5" x2="10.4" y2="203.5"/><text transform="translate(5.4,292.7) rotate(-90)" text-anchor="middle" textLength="22.6" lengthAdjust="spacingAndGlyphs">40°0'0"N</text><line class="tk" x1="9.200000000000001" y1="292.7" x2="10.4" y2="292.7"/><text transform="translate(256.2,64.3) rotate(90)" text-anchor="middle" textLength="22.6" lengthAdjust="spacingAndGlyphs">50°0'0"N</text><line class="tk" x1="252.7" y1="64.3" x2="253.89999999999998" y2="64.3"/><text transform="translate(256.2,156.0) rotate(90)" text-anchor="middle" textLength="22.6" lengthAdjust="spacingAndGlyphs">45°0'0"N</text><line class="tk" x1="252.7" y1="156.0" x2="253.89999999999998" y2="156.0"/><text transform="translate(256.2,248.5) rotate(90)" text-anchor="middle" textLength="22.6" lengthAdjust="spacingAndGlyphs">40°0'0"N</text><line class="tk" x1="252.7" y1="248.5" x2="253.89999999999998" y2="248.5"/><text transform="translate(256.2,340.7) rotate(90)" text-anchor="middle" textLength="22.6" lengthAdjust="spacingAndGlyphs">35°0'0"N</text><line class="tk" x1="252.7" y1="340.7" x2="253.89999999999998" y2="340.7"/></g><text class="cap" x="130.5" y="399" text-anchor="middle" textLength="17" lengthAdjust="spacingAndGlyphs">(d)</text></g>
</svg>
</body></html>
